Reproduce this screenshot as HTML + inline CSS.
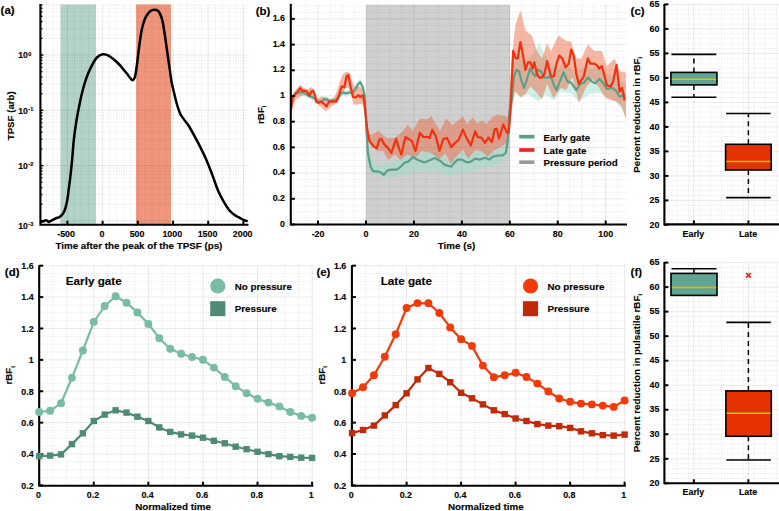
<!DOCTYPE html>
<html><head><meta charset="utf-8"><style>html,body{margin:0;padding:0;background:#fff;}svg{display:block;}</style></head><body>
<svg width="779" height="511" viewBox="0 0 779 511" font-family="'Liberation Sans', sans-serif" font-weight="bold">
<style>text{stroke:#000;stroke-width:0.12px;paint-order:stroke;}</style>
<rect width="779" height="511" fill="#fff"/>
<rect x="60.5" y="4.4" width="35.3" height="220.4" fill="#b4d3c8"/>
<rect x="136.1" y="4.4" width="34.9" height="220.4" fill="#f0967c"/>
<line x1="46.28" y1="4" x2="46.28" y2="224.8" stroke="rgba(30,30,30,0.16)" stroke-width="0.7" stroke-dasharray="1 1.6"/>
<line x1="53.32" y1="4" x2="53.32" y2="224.8" stroke="rgba(30,30,30,0.16)" stroke-width="0.7" stroke-dasharray="1 1.6"/>
<line x1="60.36" y1="4" x2="60.36" y2="224.8" stroke="rgba(30,30,30,0.16)" stroke-width="0.7" stroke-dasharray="1 1.6"/>
<line x1="67.4" y1="4" x2="67.4" y2="224.8" stroke="rgba(30,30,30,0.12)" stroke-width="0.8"/>
<line x1="74.44" y1="4" x2="74.44" y2="224.8" stroke="rgba(30,30,30,0.16)" stroke-width="0.7" stroke-dasharray="1 1.6"/>
<line x1="81.48" y1="4" x2="81.48" y2="224.8" stroke="rgba(30,30,30,0.16)" stroke-width="0.7" stroke-dasharray="1 1.6"/>
<line x1="88.52" y1="4" x2="88.52" y2="224.8" stroke="rgba(30,30,30,0.16)" stroke-width="0.7" stroke-dasharray="1 1.6"/>
<line x1="95.56" y1="4" x2="95.56" y2="224.8" stroke="rgba(30,30,30,0.16)" stroke-width="0.7" stroke-dasharray="1 1.6"/>
<line x1="102.6" y1="4" x2="102.6" y2="224.8" stroke="rgba(30,30,30,0.12)" stroke-width="0.8"/>
<line x1="109.64" y1="4" x2="109.64" y2="224.8" stroke="rgba(30,30,30,0.16)" stroke-width="0.7" stroke-dasharray="1 1.6"/>
<line x1="116.68" y1="4" x2="116.68" y2="224.8" stroke="rgba(30,30,30,0.16)" stroke-width="0.7" stroke-dasharray="1 1.6"/>
<line x1="123.72" y1="4" x2="123.72" y2="224.8" stroke="rgba(30,30,30,0.16)" stroke-width="0.7" stroke-dasharray="1 1.6"/>
<line x1="130.76" y1="4" x2="130.76" y2="224.8" stroke="rgba(30,30,30,0.16)" stroke-width="0.7" stroke-dasharray="1 1.6"/>
<line x1="137.8" y1="4" x2="137.8" y2="224.8" stroke="rgba(30,30,30,0.12)" stroke-width="0.8"/>
<line x1="144.84" y1="4" x2="144.84" y2="224.8" stroke="rgba(30,30,30,0.16)" stroke-width="0.7" stroke-dasharray="1 1.6"/>
<line x1="151.88" y1="4" x2="151.88" y2="224.8" stroke="rgba(30,30,30,0.16)" stroke-width="0.7" stroke-dasharray="1 1.6"/>
<line x1="158.92" y1="4" x2="158.92" y2="224.8" stroke="rgba(30,30,30,0.16)" stroke-width="0.7" stroke-dasharray="1 1.6"/>
<line x1="165.96" y1="4" x2="165.96" y2="224.8" stroke="rgba(30,30,30,0.16)" stroke-width="0.7" stroke-dasharray="1 1.6"/>
<line x1="173" y1="4" x2="173" y2="224.8" stroke="rgba(30,30,30,0.12)" stroke-width="0.8"/>
<line x1="180.04" y1="4" x2="180.04" y2="224.8" stroke="rgba(30,30,30,0.16)" stroke-width="0.7" stroke-dasharray="1 1.6"/>
<line x1="187.08" y1="4" x2="187.08" y2="224.8" stroke="rgba(30,30,30,0.16)" stroke-width="0.7" stroke-dasharray="1 1.6"/>
<line x1="194.12" y1="4" x2="194.12" y2="224.8" stroke="rgba(30,30,30,0.16)" stroke-width="0.7" stroke-dasharray="1 1.6"/>
<line x1="201.16" y1="4" x2="201.16" y2="224.8" stroke="rgba(30,30,30,0.16)" stroke-width="0.7" stroke-dasharray="1 1.6"/>
<line x1="208.2" y1="4" x2="208.2" y2="224.8" stroke="rgba(30,30,30,0.12)" stroke-width="0.8"/>
<line x1="215.24" y1="4" x2="215.24" y2="224.8" stroke="rgba(30,30,30,0.16)" stroke-width="0.7" stroke-dasharray="1 1.6"/>
<line x1="222.28" y1="4" x2="222.28" y2="224.8" stroke="rgba(30,30,30,0.16)" stroke-width="0.7" stroke-dasharray="1 1.6"/>
<line x1="229.32" y1="4" x2="229.32" y2="224.8" stroke="rgba(30,30,30,0.16)" stroke-width="0.7" stroke-dasharray="1 1.6"/>
<line x1="236.36" y1="4" x2="236.36" y2="224.8" stroke="rgba(30,30,30,0.16)" stroke-width="0.7" stroke-dasharray="1 1.6"/>
<line x1="243.4" y1="4" x2="243.4" y2="224.8" stroke="rgba(30,30,30,0.12)" stroke-width="0.8"/>
<line x1="40.4" y1="220.9" x2="248.5" y2="220.9" stroke="rgba(30,30,30,0.12)" stroke-width="0.8"/>
<line x1="40.4" y1="204.25" x2="248.5" y2="204.25" stroke="rgba(30,30,30,0.16)" stroke-width="0.7" stroke-dasharray="1 1.6"/>
<line x1="40.4" y1="194.52" x2="248.5" y2="194.52" stroke="rgba(30,30,30,0.16)" stroke-width="0.7" stroke-dasharray="1 1.6"/>
<line x1="40.4" y1="187.61" x2="248.5" y2="187.61" stroke="rgba(30,30,30,0.16)" stroke-width="0.7" stroke-dasharray="1 1.6"/>
<line x1="40.4" y1="182.25" x2="248.5" y2="182.25" stroke="rgba(30,30,30,0.16)" stroke-width="0.7" stroke-dasharray="1 1.6"/>
<line x1="40.4" y1="177.87" x2="248.5" y2="177.87" stroke="rgba(30,30,30,0.16)" stroke-width="0.7" stroke-dasharray="1 1.6"/>
<line x1="40.4" y1="174.17" x2="248.5" y2="174.17" stroke="rgba(30,30,30,0.16)" stroke-width="0.7" stroke-dasharray="1 1.6"/>
<line x1="40.4" y1="170.96" x2="248.5" y2="170.96" stroke="rgba(30,30,30,0.16)" stroke-width="0.7" stroke-dasharray="1 1.6"/>
<line x1="40.4" y1="168.13" x2="248.5" y2="168.13" stroke="rgba(30,30,30,0.16)" stroke-width="0.7" stroke-dasharray="1 1.6"/>
<line x1="40.4" y1="165.6" x2="248.5" y2="165.6" stroke="rgba(30,30,30,0.12)" stroke-width="0.8"/>
<line x1="40.4" y1="148.95" x2="248.5" y2="148.95" stroke="rgba(30,30,30,0.16)" stroke-width="0.7" stroke-dasharray="1 1.6"/>
<line x1="40.4" y1="139.22" x2="248.5" y2="139.22" stroke="rgba(30,30,30,0.16)" stroke-width="0.7" stroke-dasharray="1 1.6"/>
<line x1="40.4" y1="132.31" x2="248.5" y2="132.31" stroke="rgba(30,30,30,0.16)" stroke-width="0.7" stroke-dasharray="1 1.6"/>
<line x1="40.4" y1="126.95" x2="248.5" y2="126.95" stroke="rgba(30,30,30,0.16)" stroke-width="0.7" stroke-dasharray="1 1.6"/>
<line x1="40.4" y1="122.57" x2="248.5" y2="122.57" stroke="rgba(30,30,30,0.16)" stroke-width="0.7" stroke-dasharray="1 1.6"/>
<line x1="40.4" y1="118.87" x2="248.5" y2="118.87" stroke="rgba(30,30,30,0.16)" stroke-width="0.7" stroke-dasharray="1 1.6"/>
<line x1="40.4" y1="115.66" x2="248.5" y2="115.66" stroke="rgba(30,30,30,0.16)" stroke-width="0.7" stroke-dasharray="1 1.6"/>
<line x1="40.4" y1="112.83" x2="248.5" y2="112.83" stroke="rgba(30,30,30,0.16)" stroke-width="0.7" stroke-dasharray="1 1.6"/>
<line x1="40.4" y1="110.3" x2="248.5" y2="110.3" stroke="rgba(30,30,30,0.12)" stroke-width="0.8"/>
<line x1="40.4" y1="93.65" x2="248.5" y2="93.65" stroke="rgba(30,30,30,0.16)" stroke-width="0.7" stroke-dasharray="1 1.6"/>
<line x1="40.4" y1="83.92" x2="248.5" y2="83.92" stroke="rgba(30,30,30,0.16)" stroke-width="0.7" stroke-dasharray="1 1.6"/>
<line x1="40.4" y1="77.01" x2="248.5" y2="77.01" stroke="rgba(30,30,30,0.16)" stroke-width="0.7" stroke-dasharray="1 1.6"/>
<line x1="40.4" y1="71.65" x2="248.5" y2="71.65" stroke="rgba(30,30,30,0.16)" stroke-width="0.7" stroke-dasharray="1 1.6"/>
<line x1="40.4" y1="67.27" x2="248.5" y2="67.27" stroke="rgba(30,30,30,0.16)" stroke-width="0.7" stroke-dasharray="1 1.6"/>
<line x1="40.4" y1="63.57" x2="248.5" y2="63.57" stroke="rgba(30,30,30,0.16)" stroke-width="0.7" stroke-dasharray="1 1.6"/>
<line x1="40.4" y1="60.36" x2="248.5" y2="60.36" stroke="rgba(30,30,30,0.16)" stroke-width="0.7" stroke-dasharray="1 1.6"/>
<line x1="40.4" y1="57.53" x2="248.5" y2="57.53" stroke="rgba(30,30,30,0.16)" stroke-width="0.7" stroke-dasharray="1 1.6"/>
<line x1="40.4" y1="55" x2="248.5" y2="55" stroke="rgba(30,30,30,0.12)" stroke-width="0.8"/>
<line x1="40.4" y1="38.35" x2="248.5" y2="38.35" stroke="rgba(30,30,30,0.16)" stroke-width="0.7" stroke-dasharray="1 1.6"/>
<line x1="40.4" y1="28.62" x2="248.5" y2="28.62" stroke="rgba(30,30,30,0.16)" stroke-width="0.7" stroke-dasharray="1 1.6"/>
<line x1="40.4" y1="21.71" x2="248.5" y2="21.71" stroke="rgba(30,30,30,0.16)" stroke-width="0.7" stroke-dasharray="1 1.6"/>
<line x1="40.4" y1="16.35" x2="248.5" y2="16.35" stroke="rgba(30,30,30,0.16)" stroke-width="0.7" stroke-dasharray="1 1.6"/>
<line x1="40.4" y1="11.97" x2="248.5" y2="11.97" stroke="rgba(30,30,30,0.16)" stroke-width="0.7" stroke-dasharray="1 1.6"/>
<line x1="40.4" y1="8.27" x2="248.5" y2="8.27" stroke="rgba(30,30,30,0.16)" stroke-width="0.7" stroke-dasharray="1 1.6"/>
<line x1="40.4" y1="5.06" x2="248.5" y2="5.06" stroke="rgba(30,30,30,0.16)" stroke-width="0.7" stroke-dasharray="1 1.6"/>
<path d="M40,221.9 C40.58,221.8 42.67,221.55 43.5,221.3 C44.33,221.05 44.42,220.52 45,220.4 C45.58,220.28 46.37,220.35 47,220.6 C47.63,220.85 48.22,221.83 48.8,221.9 C49.38,221.97 49.92,221.3 50.5,221 C51.08,220.7 51.42,220.55 52.3,220.1 C53.18,219.65 54.62,218.8 55.8,218.3 C56.98,217.8 58.37,217.68 59.4,217.1 C60.43,216.52 61.27,215.62 62,214.8 C62.73,213.98 63.22,213.37 63.8,212.2 C64.38,211.03 64.92,209.85 65.5,207.8 C66.08,205.75 66.8,202.68 67.3,199.9 C67.8,197.12 68.07,194.33 68.5,191.1 C68.93,187.87 69.43,184.32 69.9,180.5 C70.37,176.68 70.85,172.6 71.3,168.2 C71.75,163.8 72.18,158.8 72.6,154.1 C73.02,149.4 73.2,145.32 73.8,140 C74.4,134.68 75.32,127.78 76.2,122.2 C77.08,116.62 78.12,111.4 79.1,106.5 C80.08,101.6 80.95,97.37 82.1,92.8 C83.25,88.23 84.53,83.33 86,79.1 C87.47,74.87 89.1,70.98 90.9,67.4 C92.7,63.82 94.85,59.78 96.8,57.6 C98.75,55.42 100.65,54.62 102.6,54.3 C104.55,53.98 105.88,54.17 108.5,55.7 C111.12,57.23 115.55,60.9 118.3,63.5 C121.05,66.1 123.3,69.27 125,71.3 C126.7,73.33 127.33,74.23 128.5,75.7 C129.67,77.17 130.97,79.8 132,80.1 C133.03,80.4 133.97,79.4 134.7,77.5 C135.43,75.6 135.82,72.52 136.4,68.7 C136.98,64.88 137.6,59.3 138.2,54.6 C138.8,49.9 139.42,44.62 140,40.5 C140.58,36.38 140.97,33.28 141.7,29.9 C142.43,26.52 143.52,22.68 144.4,20.2 C145.28,17.72 145.98,16.55 147,15 C148.02,13.45 149.33,11.78 150.5,10.9 C151.67,10.02 152.82,9.75 154,9.7 C155.18,9.65 156.57,9.87 157.6,10.6 C158.63,11.33 159.38,12.35 160.2,14.1 C161.02,15.85 161.77,17.87 162.5,21.1 C163.23,24.33 163.95,29.38 164.6,33.5 C165.25,37.62 165.82,41.7 166.4,45.8 C166.98,49.9 167.52,54 168.1,58.1 C168.68,62.2 169.3,66.3 169.9,70.4 C170.5,74.5 171.05,79.15 171.7,82.7 C172.35,86.25 172.97,88.23 173.8,91.7 C174.63,95.17 175.63,99.83 176.7,103.5 C177.77,107.17 178.97,111.02 180.2,113.7 C181.43,116.38 182.72,117.63 184.1,119.6 C185.48,121.57 186.8,122.82 188.5,125.5 C190.2,128.18 192.35,132.13 194.3,135.7 C196.25,139.27 198.23,142.98 200.2,146.9 C202.17,150.82 204.15,154.72 206.1,159.2 C208.05,163.68 209.95,168.67 211.9,173.8 C213.85,178.93 215.83,185.35 217.8,190 C219.77,194.65 221.75,198.28 223.7,201.7 C225.65,205.12 227.55,208.2 229.5,210.5 C231.45,212.8 233.53,214.18 235.4,215.5 C237.27,216.82 239.23,217.62 240.7,218.4 C242.17,219.18 243.03,219.72 244.2,220.2 C245.37,220.68 247.12,221.12 247.7,221.3" fill="none" stroke="#000" stroke-width="2.5" stroke-linejoin="round"/>
<line x1="67.4" y1="224.8" x2="67.4" y2="220.8" stroke="#000" stroke-width="2"/>
<text x="66.1" y="236.8" font-size="8.9" text-anchor="middle" >-500</text>
<line x1="102.6" y1="224.8" x2="102.6" y2="220.8" stroke="#000" stroke-width="2"/>
<text x="101.9" y="236.8" font-size="8.9" text-anchor="middle" >0</text>
<line x1="137.8" y1="224.8" x2="137.8" y2="220.8" stroke="#000" stroke-width="2"/>
<text x="137.1" y="236.8" font-size="8.9" text-anchor="middle" >500</text>
<line x1="173" y1="224.8" x2="173" y2="220.8" stroke="#000" stroke-width="2"/>
<text x="172.3" y="236.8" font-size="8.9" text-anchor="middle" >1000</text>
<line x1="208.2" y1="224.8" x2="208.2" y2="220.8" stroke="#000" stroke-width="2"/>
<text x="207.5" y="236.8" font-size="8.9" text-anchor="middle" >1500</text>
<line x1="243.4" y1="224.8" x2="243.4" y2="220.8" stroke="#000" stroke-width="2"/>
<text x="242.7" y="236.8" font-size="8.9" text-anchor="middle" >2000</text>
<line x1="40.4" y1="220.9" x2="43.4" y2="220.9" stroke="#000" stroke-width="1.4"/>
<line x1="40.4" y1="204.25" x2="42.4" y2="204.25" stroke="#000" stroke-width="1.4"/>
<line x1="40.4" y1="194.52" x2="42.4" y2="194.52" stroke="#000" stroke-width="1.4"/>
<line x1="40.4" y1="187.61" x2="42.4" y2="187.61" stroke="#000" stroke-width="1.4"/>
<line x1="40.4" y1="182.25" x2="42.4" y2="182.25" stroke="#000" stroke-width="1.4"/>
<line x1="40.4" y1="177.87" x2="42.4" y2="177.87" stroke="#000" stroke-width="1.4"/>
<line x1="40.4" y1="174.17" x2="42.4" y2="174.17" stroke="#000" stroke-width="1.4"/>
<line x1="40.4" y1="170.96" x2="42.4" y2="170.96" stroke="#000" stroke-width="1.4"/>
<line x1="40.4" y1="168.13" x2="42.4" y2="168.13" stroke="#000" stroke-width="1.4"/>
<line x1="40.4" y1="165.6" x2="43.4" y2="165.6" stroke="#000" stroke-width="1.4"/>
<line x1="40.4" y1="148.95" x2="42.4" y2="148.95" stroke="#000" stroke-width="1.4"/>
<line x1="40.4" y1="139.22" x2="42.4" y2="139.22" stroke="#000" stroke-width="1.4"/>
<line x1="40.4" y1="132.31" x2="42.4" y2="132.31" stroke="#000" stroke-width="1.4"/>
<line x1="40.4" y1="126.95" x2="42.4" y2="126.95" stroke="#000" stroke-width="1.4"/>
<line x1="40.4" y1="122.57" x2="42.4" y2="122.57" stroke="#000" stroke-width="1.4"/>
<line x1="40.4" y1="118.87" x2="42.4" y2="118.87" stroke="#000" stroke-width="1.4"/>
<line x1="40.4" y1="115.66" x2="42.4" y2="115.66" stroke="#000" stroke-width="1.4"/>
<line x1="40.4" y1="112.83" x2="42.4" y2="112.83" stroke="#000" stroke-width="1.4"/>
<line x1="40.4" y1="110.3" x2="43.4" y2="110.3" stroke="#000" stroke-width="1.4"/>
<line x1="40.4" y1="93.65" x2="42.4" y2="93.65" stroke="#000" stroke-width="1.4"/>
<line x1="40.4" y1="83.92" x2="42.4" y2="83.92" stroke="#000" stroke-width="1.4"/>
<line x1="40.4" y1="77.01" x2="42.4" y2="77.01" stroke="#000" stroke-width="1.4"/>
<line x1="40.4" y1="71.65" x2="42.4" y2="71.65" stroke="#000" stroke-width="1.4"/>
<line x1="40.4" y1="67.27" x2="42.4" y2="67.27" stroke="#000" stroke-width="1.4"/>
<line x1="40.4" y1="63.57" x2="42.4" y2="63.57" stroke="#000" stroke-width="1.4"/>
<line x1="40.4" y1="60.36" x2="42.4" y2="60.36" stroke="#000" stroke-width="1.4"/>
<line x1="40.4" y1="57.53" x2="42.4" y2="57.53" stroke="#000" stroke-width="1.4"/>
<line x1="40.4" y1="55" x2="43.4" y2="55" stroke="#000" stroke-width="1.4"/>
<line x1="40.4" y1="38.35" x2="42.4" y2="38.35" stroke="#000" stroke-width="1.4"/>
<line x1="40.4" y1="28.62" x2="42.4" y2="28.62" stroke="#000" stroke-width="1.4"/>
<line x1="40.4" y1="21.71" x2="42.4" y2="21.71" stroke="#000" stroke-width="1.4"/>
<line x1="40.4" y1="16.35" x2="42.4" y2="16.35" stroke="#000" stroke-width="1.4"/>
<line x1="40.4" y1="11.97" x2="42.4" y2="11.97" stroke="#000" stroke-width="1.4"/>
<line x1="40.4" y1="8.27" x2="42.4" y2="8.27" stroke="#000" stroke-width="1.4"/>
<line x1="40.4" y1="5.06" x2="42.4" y2="5.06" stroke="#000" stroke-width="1.4"/>
<text x="27.8" y="58.4" font-size="8.7" text-anchor="end">10</text>
<text x="28.3" y="55.7" font-size="5.6" text-anchor="start">0</text>
<text x="27.8" y="113.8" font-size="8.7" text-anchor="end">10</text>
<text x="28.3" y="111.1" font-size="5.6" text-anchor="start">-1</text>
<text x="27.8" y="169" font-size="8.7" text-anchor="end">10</text>
<text x="28.3" y="166.3" font-size="5.6" text-anchor="start">-2</text>
<text x="27.8" y="228.6" font-size="8.7" text-anchor="end">10</text>
<text x="28.3" y="225.9" font-size="5.6" text-anchor="start">-3</text>
<path d="M40.4,4 L40.4,224.8 L248.5,224.8" fill="none" stroke="#000" stroke-width="2.1"/>
<text x="138.9" y="249.2" font-size="9.8" text-anchor="middle" >Time after the peak of the TPSF (ps)</text>
<text transform="translate(13.6,115.8) rotate(-90)" font-size="9.7" text-anchor="middle">TPSF (arb)</text>
<text x="0.6" y="14.2" font-size="11.5" text-anchor="start" >(a)</text>
<rect x="366" y="4.6" width="144" height="219.9" fill="#d0d0d0"/>
<line x1="294.07" y1="4.2" x2="294.07" y2="224.5" stroke="rgba(30,30,30,0.16)" stroke-width="0.7" stroke-dasharray="1 1.6"/>
<line x1="306.06" y1="4.2" x2="306.06" y2="224.5" stroke="rgba(30,30,30,0.16)" stroke-width="0.7" stroke-dasharray="1 1.6"/>
<line x1="318.05" y1="4.2" x2="318.05" y2="224.5" stroke="rgba(30,30,30,0.12)" stroke-width="0.8"/>
<line x1="330.04" y1="4.2" x2="330.04" y2="224.5" stroke="rgba(30,30,30,0.16)" stroke-width="0.7" stroke-dasharray="1 1.6"/>
<line x1="342.02" y1="4.2" x2="342.02" y2="224.5" stroke="rgba(30,30,30,0.16)" stroke-width="0.7" stroke-dasharray="1 1.6"/>
<line x1="354.01" y1="4.2" x2="354.01" y2="224.5" stroke="rgba(30,30,30,0.16)" stroke-width="0.7" stroke-dasharray="1 1.6"/>
<line x1="366" y1="4.2" x2="366" y2="224.5" stroke="rgba(30,30,30,0.12)" stroke-width="0.8"/>
<line x1="377.99" y1="4.2" x2="377.99" y2="224.5" stroke="rgba(30,30,30,0.16)" stroke-width="0.7" stroke-dasharray="1 1.6"/>
<line x1="389.98" y1="4.2" x2="389.98" y2="224.5" stroke="rgba(30,30,30,0.16)" stroke-width="0.7" stroke-dasharray="1 1.6"/>
<line x1="401.96" y1="4.2" x2="401.96" y2="224.5" stroke="rgba(30,30,30,0.16)" stroke-width="0.7" stroke-dasharray="1 1.6"/>
<line x1="413.95" y1="4.2" x2="413.95" y2="224.5" stroke="rgba(30,30,30,0.12)" stroke-width="0.8"/>
<line x1="425.94" y1="4.2" x2="425.94" y2="224.5" stroke="rgba(30,30,30,0.16)" stroke-width="0.7" stroke-dasharray="1 1.6"/>
<line x1="437.93" y1="4.2" x2="437.93" y2="224.5" stroke="rgba(30,30,30,0.16)" stroke-width="0.7" stroke-dasharray="1 1.6"/>
<line x1="449.91" y1="4.2" x2="449.91" y2="224.5" stroke="rgba(30,30,30,0.16)" stroke-width="0.7" stroke-dasharray="1 1.6"/>
<line x1="461.9" y1="4.2" x2="461.9" y2="224.5" stroke="rgba(30,30,30,0.12)" stroke-width="0.8"/>
<line x1="473.89" y1="4.2" x2="473.89" y2="224.5" stroke="rgba(30,30,30,0.16)" stroke-width="0.7" stroke-dasharray="1 1.6"/>
<line x1="485.88" y1="4.2" x2="485.88" y2="224.5" stroke="rgba(30,30,30,0.16)" stroke-width="0.7" stroke-dasharray="1 1.6"/>
<line x1="497.86" y1="4.2" x2="497.86" y2="224.5" stroke="rgba(30,30,30,0.16)" stroke-width="0.7" stroke-dasharray="1 1.6"/>
<line x1="509.85" y1="4.2" x2="509.85" y2="224.5" stroke="rgba(30,30,30,0.12)" stroke-width="0.8"/>
<line x1="521.84" y1="4.2" x2="521.84" y2="224.5" stroke="rgba(30,30,30,0.16)" stroke-width="0.7" stroke-dasharray="1 1.6"/>
<line x1="533.83" y1="4.2" x2="533.83" y2="224.5" stroke="rgba(30,30,30,0.16)" stroke-width="0.7" stroke-dasharray="1 1.6"/>
<line x1="545.81" y1="4.2" x2="545.81" y2="224.5" stroke="rgba(30,30,30,0.16)" stroke-width="0.7" stroke-dasharray="1 1.6"/>
<line x1="557.8" y1="4.2" x2="557.8" y2="224.5" stroke="rgba(30,30,30,0.12)" stroke-width="0.8"/>
<line x1="569.79" y1="4.2" x2="569.79" y2="224.5" stroke="rgba(30,30,30,0.16)" stroke-width="0.7" stroke-dasharray="1 1.6"/>
<line x1="581.77" y1="4.2" x2="581.77" y2="224.5" stroke="rgba(30,30,30,0.16)" stroke-width="0.7" stroke-dasharray="1 1.6"/>
<line x1="593.76" y1="4.2" x2="593.76" y2="224.5" stroke="rgba(30,30,30,0.16)" stroke-width="0.7" stroke-dasharray="1 1.6"/>
<line x1="605.75" y1="4.2" x2="605.75" y2="224.5" stroke="rgba(30,30,30,0.12)" stroke-width="0.8"/>
<line x1="617.74" y1="4.2" x2="617.74" y2="224.5" stroke="rgba(30,30,30,0.16)" stroke-width="0.7" stroke-dasharray="1 1.6"/>
<line x1="290.8" y1="218.07" x2="627" y2="218.07" stroke="rgba(30,30,30,0.16)" stroke-width="0.7" stroke-dasharray="1 1.6"/>
<line x1="290.8" y1="211.65" x2="627" y2="211.65" stroke="rgba(30,30,30,0.16)" stroke-width="0.7" stroke-dasharray="1 1.6"/>
<line x1="290.8" y1="205.22" x2="627" y2="205.22" stroke="rgba(30,30,30,0.16)" stroke-width="0.7" stroke-dasharray="1 1.6"/>
<line x1="290.8" y1="198.8" x2="627" y2="198.8" stroke="rgba(30,30,30,0.12)" stroke-width="0.8"/>
<line x1="290.8" y1="192.38" x2="627" y2="192.38" stroke="rgba(30,30,30,0.16)" stroke-width="0.7" stroke-dasharray="1 1.6"/>
<line x1="290.8" y1="185.95" x2="627" y2="185.95" stroke="rgba(30,30,30,0.16)" stroke-width="0.7" stroke-dasharray="1 1.6"/>
<line x1="290.8" y1="179.53" x2="627" y2="179.53" stroke="rgba(30,30,30,0.16)" stroke-width="0.7" stroke-dasharray="1 1.6"/>
<line x1="290.8" y1="173.1" x2="627" y2="173.1" stroke="rgba(30,30,30,0.12)" stroke-width="0.8"/>
<line x1="290.8" y1="166.68" x2="627" y2="166.68" stroke="rgba(30,30,30,0.16)" stroke-width="0.7" stroke-dasharray="1 1.6"/>
<line x1="290.8" y1="160.25" x2="627" y2="160.25" stroke="rgba(30,30,30,0.16)" stroke-width="0.7" stroke-dasharray="1 1.6"/>
<line x1="290.8" y1="153.82" x2="627" y2="153.82" stroke="rgba(30,30,30,0.16)" stroke-width="0.7" stroke-dasharray="1 1.6"/>
<line x1="290.8" y1="147.4" x2="627" y2="147.4" stroke="rgba(30,30,30,0.12)" stroke-width="0.8"/>
<line x1="290.8" y1="140.97" x2="627" y2="140.97" stroke="rgba(30,30,30,0.16)" stroke-width="0.7" stroke-dasharray="1 1.6"/>
<line x1="290.8" y1="134.55" x2="627" y2="134.55" stroke="rgba(30,30,30,0.16)" stroke-width="0.7" stroke-dasharray="1 1.6"/>
<line x1="290.8" y1="128.12" x2="627" y2="128.12" stroke="rgba(30,30,30,0.16)" stroke-width="0.7" stroke-dasharray="1 1.6"/>
<line x1="290.8" y1="121.7" x2="627" y2="121.7" stroke="rgba(30,30,30,0.12)" stroke-width="0.8"/>
<line x1="290.8" y1="115.27" x2="627" y2="115.27" stroke="rgba(30,30,30,0.16)" stroke-width="0.7" stroke-dasharray="1 1.6"/>
<line x1="290.8" y1="108.85" x2="627" y2="108.85" stroke="rgba(30,30,30,0.16)" stroke-width="0.7" stroke-dasharray="1 1.6"/>
<line x1="290.8" y1="102.42" x2="627" y2="102.42" stroke="rgba(30,30,30,0.16)" stroke-width="0.7" stroke-dasharray="1 1.6"/>
<line x1="290.8" y1="96" x2="627" y2="96" stroke="rgba(30,30,30,0.12)" stroke-width="0.8"/>
<line x1="290.8" y1="89.57" x2="627" y2="89.57" stroke="rgba(30,30,30,0.16)" stroke-width="0.7" stroke-dasharray="1 1.6"/>
<line x1="290.8" y1="83.15" x2="627" y2="83.15" stroke="rgba(30,30,30,0.16)" stroke-width="0.7" stroke-dasharray="1 1.6"/>
<line x1="290.8" y1="76.72" x2="627" y2="76.72" stroke="rgba(30,30,30,0.16)" stroke-width="0.7" stroke-dasharray="1 1.6"/>
<line x1="290.8" y1="70.3" x2="627" y2="70.3" stroke="rgba(30,30,30,0.12)" stroke-width="0.8"/>
<line x1="290.8" y1="63.88" x2="627" y2="63.88" stroke="rgba(30,30,30,0.16)" stroke-width="0.7" stroke-dasharray="1 1.6"/>
<line x1="290.8" y1="57.45" x2="627" y2="57.45" stroke="rgba(30,30,30,0.16)" stroke-width="0.7" stroke-dasharray="1 1.6"/>
<line x1="290.8" y1="51.02" x2="627" y2="51.02" stroke="rgba(30,30,30,0.16)" stroke-width="0.7" stroke-dasharray="1 1.6"/>
<line x1="290.8" y1="44.6" x2="627" y2="44.6" stroke="rgba(30,30,30,0.12)" stroke-width="0.8"/>
<line x1="290.8" y1="38.17" x2="627" y2="38.17" stroke="rgba(30,30,30,0.16)" stroke-width="0.7" stroke-dasharray="1 1.6"/>
<line x1="290.8" y1="31.75" x2="627" y2="31.75" stroke="rgba(30,30,30,0.16)" stroke-width="0.7" stroke-dasharray="1 1.6"/>
<line x1="290.8" y1="25.32" x2="627" y2="25.32" stroke="rgba(30,30,30,0.16)" stroke-width="0.7" stroke-dasharray="1 1.6"/>
<line x1="290.8" y1="18.9" x2="627" y2="18.9" stroke="rgba(30,30,30,0.12)" stroke-width="0.8"/>
<line x1="290.8" y1="12.47" x2="627" y2="12.47" stroke="rgba(30,30,30,0.16)" stroke-width="0.7" stroke-dasharray="1 1.6"/>
<line x1="290.8" y1="6.05" x2="627" y2="6.05" stroke="rgba(30,30,30,0.16)" stroke-width="0.7" stroke-dasharray="1 1.6"/>
<path d="M291.2,97 L294.3,91.6 L296.5,90 L300.2,89.4 L302.9,89.4 L306.1,91.1 L309.4,93.2 L312.6,94.3 L315.8,96.4 L319.1,99.1 L322.3,98.1 L324.4,95.9 L327.1,96.4 L329.8,98.6 L333.1,97.5 L337.3,96.6 L340.8,90.5 L343.5,89.6 L346.1,90.5 L348.8,89.6 L352.3,89.6 L354.9,86.9 L357.6,81.7 L360.2,78.5 L362.8,83.3 L364.6,91.2 L366.5,125 L368,145 L370.6,158.1 L377.6,166 L386.4,162.5 L395.2,161.6 L404,154.6 L412.8,153.7 L419.9,152.8 L430.4,151.9 L439.3,153.7 L448.8,159.6 L457.6,149.9 L466.4,155.2 L475.2,151.6 L484,149.9 L492.8,150.8 L501.6,146.4 L507.8,137.6 L509.9,100 L514,63.6 L520.4,54.7 L525.4,61.1 L533.1,53.4 L539.4,43.2 L544.5,54.7 L550.9,66.1 L558.5,68.7 L563.6,61.1 L571.2,68.7 L576.3,73.8 L583.9,66.1 L591.6,68.7 L599.2,66.1 L606.8,73.8 L614.5,76.3 L624.6,83.9 L625.9,84 L625.9,118.3 L622.1,109.4 L614.5,100.5 L606.8,96.7 L599.2,92.9 L589,94.1 L578.9,101.8 L571.2,94.1 L561.1,91.6 L553.4,100.5 L545.8,94.1 L538.2,101.8 L528,94.1 L520.4,97.9 L514,91.6 L509.9,116.4 L507.8,156.9 L501.6,162.2 L492.8,165.7 L484,167.5 L475.2,170.1 L466.4,171.9 L457.6,172.8 L448.8,176.3 L440,171 L430.4,172.2 L421.6,170.4 L412.8,171.3 L404,174 L395.2,177.5 L386.4,178.4 L377.6,175.7 L370.6,174 L367.5,160 L366,130 L364.6,99.2 L362.8,91.3 L360.2,86 L357.6,88.7 L354.9,93.9 L352.3,95.6 L348.8,95.6 L346.1,96.5 L343.5,95.6 L340.8,96.5 L337.3,102.6 L333.1,103.5 L329.8,104.6 L327.1,102.4 L324.4,101.9 L322.3,104.1 L319.1,105.1 L315.8,102.4 L312.6,100.3 L309.4,99.2 L306.1,97.1 L302.9,95.4 L300.2,95.4 L296.5,96 L294.3,97.6 L291.2,103 Z" fill="rgba(150,225,205,0.45)" stroke="none"/>
<path d="M291.2,100 L293.2,94.1 L296.5,88.7 L300.2,84.4 L304,88.1 L307.8,89.2 L311.5,87.1 L314.2,89.2 L317.4,99.4 L321.2,96.2 L324.4,97.3 L327.1,98.4 L330.4,98.9 L334.1,97.5 L337,91 L340,81 L343,74 L345.5,72 L348,72 L350.5,74 L352.5,82 L355,87 L359,87 L362,88 L364.5,95 L366.5,112 L367.9,133.5 L371.4,135.2 L378.5,130.8 L386.4,137.9 L395.2,137.9 L402.3,131.7 L407.6,124.7 L412.8,130.8 L419.9,118.5 L426.9,119.4 L431.3,115.9 L435.7,123.8 L440.1,130.8 L446.2,118.2 L452.3,125.2 L457.6,120.8 L462.9,116.4 L467.3,124.3 L472.6,117.3 L477,123.5 L482.3,120.8 L486.7,124.3 L492.8,116.4 L498.1,114.7 L503.4,115.5 L507.8,117.3 L509.9,90 L511.4,63.6 L515.3,25.4 L520.4,10.2 L525.4,30.5 L531.8,35.6 L536.9,50.9 L542,58.5 L547.1,43.2 L550.9,50.9 L558.5,35.6 L566.1,40.7 L571.2,42 L576.3,58.5 L581.4,58.5 L587.8,44.5 L594.1,50.9 L601.8,50.9 L606.8,66.1 L614.5,58.5 L619.6,71.2 L625.9,72.5 L625.9,119.6 L622.1,106.8 L617,101.8 L611.9,100.5 L605.6,97.9 L599.2,87.8 L592.9,78.9 L586.5,86.5 L578.9,103 L572.5,77.6 L566.1,90.3 L561.1,87.8 L553.4,97.9 L547.1,83.9 L542,99.2 L535.6,91.6 L530.5,86.5 L525.4,94.1 L520.4,96.7 L515.3,91.6 L511.4,111.9 L510.4,125 L507.8,142 L501.6,146.4 L494.6,149.9 L487.6,156.9 L482.3,151.6 L475.2,149.9 L468.2,158.7 L462.9,149.9 L455.9,156.9 L450.6,164 L445.3,153.4 L439.3,159 L430.4,152.8 L421.6,151.1 L414.6,159 L407.6,154.6 L400.5,159.9 L395.2,154.6 L388.2,159.9 L382.9,151.1 L377.6,151.1 L372,147 L367.9,140.5 L366.5,126 L364.5,112 L362,104 L359,104 L356,105 L353.5,104 L351,95 L348.5,88 L346,88 L343,92 L340,97 L337,103 L334.1,104.8 L332,105.9 L328.8,109.1 L325.5,111.3 L322.3,108.1 L319.1,105.9 L315.8,101.6 L311.5,97.3 L307.8,95.7 L304,95.1 L300.8,96.2 L296.5,99.4 L293.2,103.8 L291.2,116 Z" fill="rgba(238,95,55,0.45)" stroke="none"/>
<path d="M291.2,100 L292.5,97 L294.3,94.6 L296.5,93 L300.2,92.4 L302.9,92.4 L306.1,94.1 L309.4,96.2 L312.6,97.3 L315.8,99.4 L319.1,102.1 L322.3,101.1 L324.4,98.9 L327.1,99.4 L329.8,101.6 L333.1,100.5 L337.3,99.6 L340.8,93.5 L343.5,92.6 L346.1,93.5 L348.8,92.6 L352.3,92.6 L354.9,89.9 L357.6,84.7 L360.2,82 L362.8,87.3 L364.6,95.2 L366.2,125 L367.9,152.8 L370.6,166.9 L373.2,171.3 L376.7,171.3 L380.3,172.2 L383.8,174.8 L387.3,170.4 L390.8,169.6 L397,169.6 L401.4,166 L404.9,162.5 L408.4,161.6 L412.8,157.2 L418.1,159.9 L424.3,162.5 L428.7,160.8 L434.9,158.1 L440.5,161 L443.5,164 L447,165.7 L451.4,166.6 L454.1,163.1 L457.6,159.6 L462,159.6 L466.4,162.2 L469.9,162.2 L475.2,158.7 L479.6,159.6 L484.9,157.8 L489.3,159.6 L492.8,156.6 L498.1,155.5 L502.5,155.5 L506,152.5 L507.8,139.3 L509.6,111.1 L511.4,101.8 L514,76.3 L516.5,70 L519.1,71.2 L521.6,81.4 L524.2,87.8 L526.7,80.1 L530,68.7 L533.1,73.8 L535.6,76.3 L538.2,70 L540.7,71.2 L544.5,77.6 L548.3,77.6 L550.9,76.3 L553.4,83.9 L556.5,90.3 L559.8,81.4 L563.6,72.5 L567.4,81.4 L571.2,82.7 L576.3,90.3 L580.1,83.9 L583.9,82.7 L587.8,77.6 L591.6,81.4 L595.4,83.4 L599.2,78.9 L603,82.7 L606.8,89 L611.9,87.8 L615.7,90.3 L619.6,96.7 L623.4,95.4 L625.2,94.1" fill="none" stroke="#5b9f8b" stroke-width="2.2" stroke-linejoin="round"/>
<path d="M291.2,108 L292.2,101.6 L293.2,97.3 L295.4,94.1 L297.5,91.9 L300.2,88.1 L302.4,90.8 L305.1,90.8 L307.2,91.9 L309.4,95.7 L311.5,91.4 L313.1,90.8 L314.8,95.1 L316.4,102.1 L318.5,102.7 L321.2,101.6 L323.9,103.8 L326.6,106.4 L328.8,102.1 L331.4,101.1 L334.1,101.6 L336.4,101.4 L339.1,94.3 L341.7,86.4 L344.4,87.3 L346.6,75.9 L348.4,75 L350.5,86.4 L353.2,97 L355.8,97.3 L358.1,95.2 L360.2,97 L362.8,95.2 L364.6,104 L366,118 L367.3,130 L369.7,141.4 L373.2,145.8 L376.7,148.4 L379.4,139.6 L381.1,138.7 L384.7,144.9 L388.2,148.4 L391.3,152.8 L393.5,146.7 L396.1,138.7 L398.7,147.6 L401.4,154.6 L405.4,137 L408.4,138.7 L412,141.4 L415.5,151.1 L419.9,132.6 L423.4,137 L427.8,137 L429.6,137.9 L432.2,129.9 L435.7,136.1 L439.5,151 L443.3,139 L447,138 L451.4,147.2 L455,142.8 L458.5,140.2 L462.9,129.6 L466.4,137.6 L470.8,145.5 L475.2,131.4 L477.9,137.2 L481.4,137.6 L484.9,142.8 L488.4,137.6 L492,142 L494.6,129.6 L496.7,128.7 L499,138.4 L503.4,124.3 L506.6,132.3 L508.7,132.3 L510.4,111.1 L511.4,89 L513.2,50.9 L515.8,58.5 L517.8,58.5 L520.4,42 L522.9,54.7 L525.4,70 L528,62.3 L530.5,62.3 L532.6,68.7 L534.3,62.3 L536.9,73.8 L539.4,77.6 L542,77.6 L544.5,73.8 L547.1,61.1 L550.9,76.3 L553.9,76.3 L556.5,63.6 L559.3,55.5 L562.3,58.5 L565.6,67.4 L568.7,63.6 L571.2,49.6 L573.8,56 L576.3,73.8 L578.9,83.9 L581.4,80.1 L583.9,76.3 L587.8,58.5 L590.3,63.6 L594.1,63.6 L596.7,64.9 L599.2,68.7 L601.8,66.1 L604.3,75 L606.8,85.2 L610.7,86.5 L613.2,81.4 L616.5,64.9 L619.6,91.6 L622.1,87.8 L624.6,100.5" fill="none" stroke="#f0320f" stroke-width="2.2" stroke-linejoin="round"/>
<line x1="318.05" y1="224.5" x2="318.05" y2="220.5" stroke="#000" stroke-width="2"/>
<text x="318.05" y="236.6" font-size="8.9" text-anchor="middle" >-20</text>
<line x1="366" y1="224.5" x2="366" y2="220.5" stroke="#000" stroke-width="2"/>
<text x="366" y="236.6" font-size="8.9" text-anchor="middle" >0</text>
<line x1="413.95" y1="224.5" x2="413.95" y2="220.5" stroke="#000" stroke-width="2"/>
<text x="413.95" y="236.6" font-size="8.9" text-anchor="middle" >20</text>
<line x1="461.9" y1="224.5" x2="461.9" y2="220.5" stroke="#000" stroke-width="2"/>
<text x="461.9" y="236.6" font-size="8.9" text-anchor="middle" >40</text>
<line x1="509.85" y1="224.5" x2="509.85" y2="220.5" stroke="#000" stroke-width="2"/>
<text x="509.85" y="236.6" font-size="8.9" text-anchor="middle" >60</text>
<line x1="557.8" y1="224.5" x2="557.8" y2="220.5" stroke="#000" stroke-width="2"/>
<text x="557.8" y="236.6" font-size="8.9" text-anchor="middle" >80</text>
<line x1="605.75" y1="224.5" x2="605.75" y2="220.5" stroke="#000" stroke-width="2"/>
<text x="605.75" y="236.6" font-size="8.9" text-anchor="middle" >100</text>
<line x1="290.8" y1="224.5" x2="294.8" y2="224.5" stroke="#000" stroke-width="2"/>
<text x="285" y="226.6" font-size="8.9" text-anchor="end" >0</text>
<line x1="290.8" y1="198.8" x2="294.8" y2="198.8" stroke="#000" stroke-width="2"/>
<text x="285" y="200.9" font-size="8.9" text-anchor="end" >0.2</text>
<line x1="290.8" y1="173.1" x2="294.8" y2="173.1" stroke="#000" stroke-width="2"/>
<text x="285" y="175.2" font-size="8.9" text-anchor="end" >0.4</text>
<line x1="290.8" y1="147.4" x2="294.8" y2="147.4" stroke="#000" stroke-width="2"/>
<text x="285" y="149.5" font-size="8.9" text-anchor="end" >0.6</text>
<line x1="290.8" y1="121.7" x2="294.8" y2="121.7" stroke="#000" stroke-width="2"/>
<text x="285" y="123.8" font-size="8.9" text-anchor="end" >0.8</text>
<line x1="290.8" y1="96" x2="294.8" y2="96" stroke="#000" stroke-width="2"/>
<text x="285" y="98.1" font-size="8.9" text-anchor="end" >1</text>
<line x1="290.8" y1="70.3" x2="294.8" y2="70.3" stroke="#000" stroke-width="2"/>
<text x="285" y="72.4" font-size="8.9" text-anchor="end" >1.2</text>
<line x1="290.8" y1="44.6" x2="294.8" y2="44.6" stroke="#000" stroke-width="2"/>
<text x="285" y="46.7" font-size="8.9" text-anchor="end" >1.4</text>
<line x1="290.8" y1="18.9" x2="294.8" y2="18.9" stroke="#000" stroke-width="2"/>
<text x="285" y="21" font-size="8.9" text-anchor="end" >1.6</text>
<path d="M290.8,3.7 L290.8,224.5 L627,224.5" fill="none" stroke="#000" stroke-width="2.1"/>
<text x="456.5" y="249.2" font-size="9.8" text-anchor="middle" >Time (s)</text>
<text transform="translate(263.8,114.8) rotate(-90)" font-size="9.8" text-anchor="middle">rBF<tspan font-size="5.5" dy="2.2">i</tspan></text>
<text x="255.7" y="14.5" font-size="11.5" text-anchor="start" >(b)</text>
<rect x="519.2" y="134.9" width="15.2" height="3.6" fill="#5b9f8b"/>
<rect x="519.2" y="148.2" width="15.2" height="3.6" fill="#f02020"/>
<rect x="519.2" y="160.4" width="15.2" height="3.6" fill="#999999"/>
<text x="543.5" y="140.6" font-size="9.75" text-anchor="start" >Early gate</text>
<text x="543.5" y="153.8" font-size="9.75" text-anchor="start" >Late gate</text>
<text x="543.5" y="165.8" font-size="9.75" text-anchor="start" >Pressure period</text>
<line x1="664.4" y1="220" x2="779" y2="220" stroke="rgba(30,30,30,0.16)" stroke-width="0.7" stroke-dasharray="1 1.6"/>
<line x1="664.4" y1="215.1" x2="779" y2="215.1" stroke="rgba(30,30,30,0.16)" stroke-width="0.7" stroke-dasharray="1 1.6"/>
<line x1="664.4" y1="210.2" x2="779" y2="210.2" stroke="rgba(30,30,30,0.16)" stroke-width="0.7" stroke-dasharray="1 1.6"/>
<line x1="664.4" y1="205.3" x2="779" y2="205.3" stroke="rgba(30,30,30,0.16)" stroke-width="0.7" stroke-dasharray="1 1.6"/>
<line x1="664.4" y1="200.4" x2="779" y2="200.4" stroke="rgba(30,30,30,0.12)" stroke-width="0.8"/>
<line x1="664.4" y1="195.5" x2="779" y2="195.5" stroke="rgba(30,30,30,0.16)" stroke-width="0.7" stroke-dasharray="1 1.6"/>
<line x1="664.4" y1="190.6" x2="779" y2="190.6" stroke="rgba(30,30,30,0.16)" stroke-width="0.7" stroke-dasharray="1 1.6"/>
<line x1="664.4" y1="185.7" x2="779" y2="185.7" stroke="rgba(30,30,30,0.16)" stroke-width="0.7" stroke-dasharray="1 1.6"/>
<line x1="664.4" y1="180.8" x2="779" y2="180.8" stroke="rgba(30,30,30,0.16)" stroke-width="0.7" stroke-dasharray="1 1.6"/>
<line x1="664.4" y1="175.9" x2="779" y2="175.9" stroke="rgba(30,30,30,0.12)" stroke-width="0.8"/>
<line x1="664.4" y1="171" x2="779" y2="171" stroke="rgba(30,30,30,0.16)" stroke-width="0.7" stroke-dasharray="1 1.6"/>
<line x1="664.4" y1="166.1" x2="779" y2="166.1" stroke="rgba(30,30,30,0.16)" stroke-width="0.7" stroke-dasharray="1 1.6"/>
<line x1="664.4" y1="161.2" x2="779" y2="161.2" stroke="rgba(30,30,30,0.16)" stroke-width="0.7" stroke-dasharray="1 1.6"/>
<line x1="664.4" y1="156.3" x2="779" y2="156.3" stroke="rgba(30,30,30,0.16)" stroke-width="0.7" stroke-dasharray="1 1.6"/>
<line x1="664.4" y1="151.4" x2="779" y2="151.4" stroke="rgba(30,30,30,0.12)" stroke-width="0.8"/>
<line x1="664.4" y1="146.5" x2="779" y2="146.5" stroke="rgba(30,30,30,0.16)" stroke-width="0.7" stroke-dasharray="1 1.6"/>
<line x1="664.4" y1="141.6" x2="779" y2="141.6" stroke="rgba(30,30,30,0.16)" stroke-width="0.7" stroke-dasharray="1 1.6"/>
<line x1="664.4" y1="136.7" x2="779" y2="136.7" stroke="rgba(30,30,30,0.16)" stroke-width="0.7" stroke-dasharray="1 1.6"/>
<line x1="664.4" y1="131.8" x2="779" y2="131.8" stroke="rgba(30,30,30,0.16)" stroke-width="0.7" stroke-dasharray="1 1.6"/>
<line x1="664.4" y1="126.9" x2="779" y2="126.9" stroke="rgba(30,30,30,0.12)" stroke-width="0.8"/>
<line x1="664.4" y1="122" x2="779" y2="122" stroke="rgba(30,30,30,0.16)" stroke-width="0.7" stroke-dasharray="1 1.6"/>
<line x1="664.4" y1="117.1" x2="779" y2="117.1" stroke="rgba(30,30,30,0.16)" stroke-width="0.7" stroke-dasharray="1 1.6"/>
<line x1="664.4" y1="112.2" x2="779" y2="112.2" stroke="rgba(30,30,30,0.16)" stroke-width="0.7" stroke-dasharray="1 1.6"/>
<line x1="664.4" y1="107.3" x2="779" y2="107.3" stroke="rgba(30,30,30,0.16)" stroke-width="0.7" stroke-dasharray="1 1.6"/>
<line x1="664.4" y1="102.4" x2="779" y2="102.4" stroke="rgba(30,30,30,0.12)" stroke-width="0.8"/>
<line x1="664.4" y1="97.5" x2="779" y2="97.5" stroke="rgba(30,30,30,0.16)" stroke-width="0.7" stroke-dasharray="1 1.6"/>
<line x1="664.4" y1="92.6" x2="779" y2="92.6" stroke="rgba(30,30,30,0.16)" stroke-width="0.7" stroke-dasharray="1 1.6"/>
<line x1="664.4" y1="87.7" x2="779" y2="87.7" stroke="rgba(30,30,30,0.16)" stroke-width="0.7" stroke-dasharray="1 1.6"/>
<line x1="664.4" y1="82.8" x2="779" y2="82.8" stroke="rgba(30,30,30,0.16)" stroke-width="0.7" stroke-dasharray="1 1.6"/>
<line x1="664.4" y1="77.9" x2="779" y2="77.9" stroke="rgba(30,30,30,0.12)" stroke-width="0.8"/>
<line x1="664.4" y1="73" x2="779" y2="73" stroke="rgba(30,30,30,0.16)" stroke-width="0.7" stroke-dasharray="1 1.6"/>
<line x1="664.4" y1="68.1" x2="779" y2="68.1" stroke="rgba(30,30,30,0.16)" stroke-width="0.7" stroke-dasharray="1 1.6"/>
<line x1="664.4" y1="63.2" x2="779" y2="63.2" stroke="rgba(30,30,30,0.16)" stroke-width="0.7" stroke-dasharray="1 1.6"/>
<line x1="664.4" y1="58.3" x2="779" y2="58.3" stroke="rgba(30,30,30,0.16)" stroke-width="0.7" stroke-dasharray="1 1.6"/>
<line x1="664.4" y1="53.4" x2="779" y2="53.4" stroke="rgba(30,30,30,0.12)" stroke-width="0.8"/>
<line x1="664.4" y1="48.5" x2="779" y2="48.5" stroke="rgba(30,30,30,0.16)" stroke-width="0.7" stroke-dasharray="1 1.6"/>
<line x1="664.4" y1="43.6" x2="779" y2="43.6" stroke="rgba(30,30,30,0.16)" stroke-width="0.7" stroke-dasharray="1 1.6"/>
<line x1="664.4" y1="38.7" x2="779" y2="38.7" stroke="rgba(30,30,30,0.16)" stroke-width="0.7" stroke-dasharray="1 1.6"/>
<line x1="664.4" y1="33.8" x2="779" y2="33.8" stroke="rgba(30,30,30,0.16)" stroke-width="0.7" stroke-dasharray="1 1.6"/>
<line x1="664.4" y1="28.9" x2="779" y2="28.9" stroke="rgba(30,30,30,0.12)" stroke-width="0.8"/>
<line x1="664.4" y1="24" x2="779" y2="24" stroke="rgba(30,30,30,0.16)" stroke-width="0.7" stroke-dasharray="1 1.6"/>
<line x1="664.4" y1="19.1" x2="779" y2="19.1" stroke="rgba(30,30,30,0.16)" stroke-width="0.7" stroke-dasharray="1 1.6"/>
<line x1="664.4" y1="14.2" x2="779" y2="14.2" stroke="rgba(30,30,30,0.16)" stroke-width="0.7" stroke-dasharray="1 1.6"/>
<line x1="664.4" y1="9.3" x2="779" y2="9.3" stroke="rgba(30,30,30,0.16)" stroke-width="0.7" stroke-dasharray="1 1.6"/>
<line x1="664.4" y1="4.4" x2="779" y2="4.4" stroke="rgba(30,30,30,0.12)" stroke-width="0.8"/>
<line x1="677.4" y1="4.5" x2="677.4" y2="224.4" stroke="rgba(30,30,30,0.16)" stroke-width="0.7" stroke-dasharray="1 1.6"/>
<line x1="688.4" y1="4.5" x2="688.4" y2="224.4" stroke="rgba(30,30,30,0.16)" stroke-width="0.7" stroke-dasharray="1 1.6"/>
<line x1="699.4" y1="4.5" x2="699.4" y2="224.4" stroke="rgba(30,30,30,0.16)" stroke-width="0.7" stroke-dasharray="1 1.6"/>
<line x1="710.4" y1="4.5" x2="710.4" y2="224.4" stroke="rgba(30,30,30,0.16)" stroke-width="0.7" stroke-dasharray="1 1.6"/>
<line x1="721.4" y1="4.5" x2="721.4" y2="224.4" stroke="rgba(30,30,30,0.16)" stroke-width="0.7" stroke-dasharray="1 1.6"/>
<line x1="732.3" y1="4.5" x2="732.3" y2="224.4" stroke="rgba(30,30,30,0.16)" stroke-width="0.7" stroke-dasharray="1 1.6"/>
<line x1="743.3" y1="4.5" x2="743.3" y2="224.4" stroke="rgba(30,30,30,0.16)" stroke-width="0.7" stroke-dasharray="1 1.6"/>
<line x1="754.3" y1="4.5" x2="754.3" y2="224.4" stroke="rgba(30,30,30,0.16)" stroke-width="0.7" stroke-dasharray="1 1.6"/>
<line x1="765.3" y1="4.5" x2="765.3" y2="224.4" stroke="rgba(30,30,30,0.16)" stroke-width="0.7" stroke-dasharray="1 1.6"/>
<line x1="776.3" y1="4.5" x2="776.3" y2="224.4" stroke="rgba(30,30,30,0.16)" stroke-width="0.7" stroke-dasharray="1 1.6"/>
<line x1="693.9" y1="4.5" x2="693.9" y2="224.4" stroke="rgba(30,30,30,0.12)" stroke-width="0.8"/>
<line x1="748.4" y1="4.5" x2="748.4" y2="224.4" stroke="rgba(30,30,30,0.12)" stroke-width="0.8"/>
<line x1="693.9" y1="72.4" x2="693.9" y2="54.4" stroke="#000" stroke-width="1.5" stroke-dasharray="5 4"/>
<line x1="671.4" y1="54.4" x2="716.4" y2="54.4" stroke="#000" stroke-width="1.6"/>
<line x1="693.9" y1="84.9" x2="693.9" y2="97.2" stroke="#000" stroke-width="1.5" stroke-dasharray="5 4"/>
<line x1="671.4" y1="97.2" x2="716.4" y2="97.2" stroke="#000" stroke-width="1.6"/>
<rect x="670.9" y="72.4" width="46" height="12.5" fill="#62a494" stroke="#000" stroke-width="1.6"/>
<line x1="671.7" y1="79.3" x2="716.1" y2="79.3" stroke="#cdc400" stroke-width="1.5"/>
<line x1="748.4" y1="144.3" x2="748.4" y2="113.5" stroke="#000" stroke-width="1.5" stroke-dasharray="5 4"/>
<line x1="726.1" y1="113.5" x2="770.7" y2="113.5" stroke="#000" stroke-width="1.6"/>
<line x1="748.4" y1="170" x2="748.4" y2="197.6" stroke="#000" stroke-width="1.5" stroke-dasharray="5 4"/>
<line x1="726.1" y1="197.6" x2="770.7" y2="197.6" stroke="#000" stroke-width="1.6"/>
<rect x="725.6" y="144.3" width="45.6" height="25.7" fill="#e63200" stroke="#000" stroke-width="1.6"/>
<line x1="726.4" y1="161.4" x2="770.4" y2="161.4" stroke="#cdc400" stroke-width="1.5"/>
<line x1="664.4" y1="224.9" x2="668.4" y2="224.9" stroke="#000" stroke-width="2"/>
<text x="659.4" y="227.6" font-size="8.9" text-anchor="end" >20</text>
<line x1="664.4" y1="200.4" x2="668.4" y2="200.4" stroke="#000" stroke-width="2"/>
<text x="659.4" y="203.1" font-size="8.9" text-anchor="end" >25</text>
<line x1="664.4" y1="175.9" x2="668.4" y2="175.9" stroke="#000" stroke-width="2"/>
<text x="659.4" y="178.6" font-size="8.9" text-anchor="end" >30</text>
<line x1="664.4" y1="151.4" x2="668.4" y2="151.4" stroke="#000" stroke-width="2"/>
<text x="659.4" y="154.1" font-size="8.9" text-anchor="end" >35</text>
<line x1="664.4" y1="126.9" x2="668.4" y2="126.9" stroke="#000" stroke-width="2"/>
<text x="659.4" y="129.6" font-size="8.9" text-anchor="end" >40</text>
<line x1="664.4" y1="102.4" x2="668.4" y2="102.4" stroke="#000" stroke-width="2"/>
<text x="659.4" y="105.1" font-size="8.9" text-anchor="end" >45</text>
<line x1="664.4" y1="77.9" x2="668.4" y2="77.9" stroke="#000" stroke-width="2"/>
<text x="659.4" y="80.6" font-size="8.9" text-anchor="end" >50</text>
<line x1="664.4" y1="53.4" x2="668.4" y2="53.4" stroke="#000" stroke-width="2"/>
<text x="659.4" y="56.1" font-size="8.9" text-anchor="end" >55</text>
<line x1="664.4" y1="28.9" x2="668.4" y2="28.9" stroke="#000" stroke-width="2"/>
<text x="659.4" y="31.6" font-size="8.9" text-anchor="end" >60</text>
<line x1="664.4" y1="4.4" x2="668.4" y2="4.4" stroke="#000" stroke-width="2"/>
<text x="659.4" y="7.1" font-size="8.9" text-anchor="end" >65</text>
<line x1="693.9" y1="224.4" x2="693.9" y2="220.4" stroke="#000" stroke-width="2"/>
<line x1="748.4" y1="224.4" x2="748.4" y2="220.4" stroke="#000" stroke-width="2"/>
<text x="693.4" y="237.3" font-size="8.9" text-anchor="middle" >Early</text>
<text x="748" y="237.3" font-size="8.9" text-anchor="middle" >Late</text>
<path d="M664.4,4 L664.4,224.4 L779,224.4" fill="none" stroke="#000" stroke-width="2.1"/>
<text transform="translate(640.2,114.8) rotate(-90)" font-size="9.8" text-anchor="middle">Percent reduction in rBF<tspan font-size="5.5" dy="2.2">i</tspan></text>
<text x="630.6" y="14.7" font-size="11.5" text-anchor="start" >(c)</text>
<line x1="664.4" y1="478.42" x2="779" y2="478.42" stroke="rgba(30,30,30,0.16)" stroke-width="0.7" stroke-dasharray="1 1.6"/>
<line x1="664.4" y1="473.52" x2="779" y2="473.52" stroke="rgba(30,30,30,0.16)" stroke-width="0.7" stroke-dasharray="1 1.6"/>
<line x1="664.4" y1="468.61" x2="779" y2="468.61" stroke="rgba(30,30,30,0.16)" stroke-width="0.7" stroke-dasharray="1 1.6"/>
<line x1="664.4" y1="463.71" x2="779" y2="463.71" stroke="rgba(30,30,30,0.16)" stroke-width="0.7" stroke-dasharray="1 1.6"/>
<line x1="664.4" y1="458.8" x2="779" y2="458.8" stroke="rgba(30,30,30,0.12)" stroke-width="0.8"/>
<line x1="664.4" y1="453.9" x2="779" y2="453.9" stroke="rgba(30,30,30,0.16)" stroke-width="0.7" stroke-dasharray="1 1.6"/>
<line x1="664.4" y1="448.99" x2="779" y2="448.99" stroke="rgba(30,30,30,0.16)" stroke-width="0.7" stroke-dasharray="1 1.6"/>
<line x1="664.4" y1="444.09" x2="779" y2="444.09" stroke="rgba(30,30,30,0.16)" stroke-width="0.7" stroke-dasharray="1 1.6"/>
<line x1="664.4" y1="439.18" x2="779" y2="439.18" stroke="rgba(30,30,30,0.16)" stroke-width="0.7" stroke-dasharray="1 1.6"/>
<line x1="664.4" y1="434.28" x2="779" y2="434.28" stroke="rgba(30,30,30,0.12)" stroke-width="0.8"/>
<line x1="664.4" y1="429.37" x2="779" y2="429.37" stroke="rgba(30,30,30,0.16)" stroke-width="0.7" stroke-dasharray="1 1.6"/>
<line x1="664.4" y1="424.47" x2="779" y2="424.47" stroke="rgba(30,30,30,0.16)" stroke-width="0.7" stroke-dasharray="1 1.6"/>
<line x1="664.4" y1="419.56" x2="779" y2="419.56" stroke="rgba(30,30,30,0.16)" stroke-width="0.7" stroke-dasharray="1 1.6"/>
<line x1="664.4" y1="414.66" x2="779" y2="414.66" stroke="rgba(30,30,30,0.16)" stroke-width="0.7" stroke-dasharray="1 1.6"/>
<line x1="664.4" y1="409.75" x2="779" y2="409.75" stroke="rgba(30,30,30,0.12)" stroke-width="0.8"/>
<line x1="664.4" y1="404.85" x2="779" y2="404.85" stroke="rgba(30,30,30,0.16)" stroke-width="0.7" stroke-dasharray="1 1.6"/>
<line x1="664.4" y1="399.94" x2="779" y2="399.94" stroke="rgba(30,30,30,0.16)" stroke-width="0.7" stroke-dasharray="1 1.6"/>
<line x1="664.4" y1="395.04" x2="779" y2="395.04" stroke="rgba(30,30,30,0.16)" stroke-width="0.7" stroke-dasharray="1 1.6"/>
<line x1="664.4" y1="390.13" x2="779" y2="390.13" stroke="rgba(30,30,30,0.16)" stroke-width="0.7" stroke-dasharray="1 1.6"/>
<line x1="664.4" y1="385.23" x2="779" y2="385.23" stroke="rgba(30,30,30,0.12)" stroke-width="0.8"/>
<line x1="664.4" y1="380.32" x2="779" y2="380.32" stroke="rgba(30,30,30,0.16)" stroke-width="0.7" stroke-dasharray="1 1.6"/>
<line x1="664.4" y1="375.42" x2="779" y2="375.42" stroke="rgba(30,30,30,0.16)" stroke-width="0.7" stroke-dasharray="1 1.6"/>
<line x1="664.4" y1="370.51" x2="779" y2="370.51" stroke="rgba(30,30,30,0.16)" stroke-width="0.7" stroke-dasharray="1 1.6"/>
<line x1="664.4" y1="365.61" x2="779" y2="365.61" stroke="rgba(30,30,30,0.16)" stroke-width="0.7" stroke-dasharray="1 1.6"/>
<line x1="664.4" y1="360.7" x2="779" y2="360.7" stroke="rgba(30,30,30,0.12)" stroke-width="0.8"/>
<line x1="664.4" y1="355.8" x2="779" y2="355.8" stroke="rgba(30,30,30,0.16)" stroke-width="0.7" stroke-dasharray="1 1.6"/>
<line x1="664.4" y1="350.89" x2="779" y2="350.89" stroke="rgba(30,30,30,0.16)" stroke-width="0.7" stroke-dasharray="1 1.6"/>
<line x1="664.4" y1="345.99" x2="779" y2="345.99" stroke="rgba(30,30,30,0.16)" stroke-width="0.7" stroke-dasharray="1 1.6"/>
<line x1="664.4" y1="341.08" x2="779" y2="341.08" stroke="rgba(30,30,30,0.16)" stroke-width="0.7" stroke-dasharray="1 1.6"/>
<line x1="664.4" y1="336.18" x2="779" y2="336.18" stroke="rgba(30,30,30,0.12)" stroke-width="0.8"/>
<line x1="664.4" y1="331.27" x2="779" y2="331.27" stroke="rgba(30,30,30,0.16)" stroke-width="0.7" stroke-dasharray="1 1.6"/>
<line x1="664.4" y1="326.37" x2="779" y2="326.37" stroke="rgba(30,30,30,0.16)" stroke-width="0.7" stroke-dasharray="1 1.6"/>
<line x1="664.4" y1="321.46" x2="779" y2="321.46" stroke="rgba(30,30,30,0.16)" stroke-width="0.7" stroke-dasharray="1 1.6"/>
<line x1="664.4" y1="316.56" x2="779" y2="316.56" stroke="rgba(30,30,30,0.16)" stroke-width="0.7" stroke-dasharray="1 1.6"/>
<line x1="664.4" y1="311.65" x2="779" y2="311.65" stroke="rgba(30,30,30,0.12)" stroke-width="0.8"/>
<line x1="664.4" y1="306.75" x2="779" y2="306.75" stroke="rgba(30,30,30,0.16)" stroke-width="0.7" stroke-dasharray="1 1.6"/>
<line x1="664.4" y1="301.84" x2="779" y2="301.84" stroke="rgba(30,30,30,0.16)" stroke-width="0.7" stroke-dasharray="1 1.6"/>
<line x1="664.4" y1="296.94" x2="779" y2="296.94" stroke="rgba(30,30,30,0.16)" stroke-width="0.7" stroke-dasharray="1 1.6"/>
<line x1="664.4" y1="292.03" x2="779" y2="292.03" stroke="rgba(30,30,30,0.16)" stroke-width="0.7" stroke-dasharray="1 1.6"/>
<line x1="664.4" y1="287.12" x2="779" y2="287.12" stroke="rgba(30,30,30,0.12)" stroke-width="0.8"/>
<line x1="664.4" y1="282.22" x2="779" y2="282.22" stroke="rgba(30,30,30,0.16)" stroke-width="0.7" stroke-dasharray="1 1.6"/>
<line x1="664.4" y1="277.31" x2="779" y2="277.31" stroke="rgba(30,30,30,0.16)" stroke-width="0.7" stroke-dasharray="1 1.6"/>
<line x1="664.4" y1="272.41" x2="779" y2="272.41" stroke="rgba(30,30,30,0.16)" stroke-width="0.7" stroke-dasharray="1 1.6"/>
<line x1="664.4" y1="267.5" x2="779" y2="267.5" stroke="rgba(30,30,30,0.16)" stroke-width="0.7" stroke-dasharray="1 1.6"/>
<line x1="664.4" y1="262.6" x2="779" y2="262.6" stroke="rgba(30,30,30,0.12)" stroke-width="0.8"/>
<line x1="677.4" y1="262.5" x2="677.4" y2="483.3" stroke="rgba(30,30,30,0.16)" stroke-width="0.7" stroke-dasharray="1 1.6"/>
<line x1="688.4" y1="262.5" x2="688.4" y2="483.3" stroke="rgba(30,30,30,0.16)" stroke-width="0.7" stroke-dasharray="1 1.6"/>
<line x1="699.4" y1="262.5" x2="699.4" y2="483.3" stroke="rgba(30,30,30,0.16)" stroke-width="0.7" stroke-dasharray="1 1.6"/>
<line x1="710.4" y1="262.5" x2="710.4" y2="483.3" stroke="rgba(30,30,30,0.16)" stroke-width="0.7" stroke-dasharray="1 1.6"/>
<line x1="721.4" y1="262.5" x2="721.4" y2="483.3" stroke="rgba(30,30,30,0.16)" stroke-width="0.7" stroke-dasharray="1 1.6"/>
<line x1="732.3" y1="262.5" x2="732.3" y2="483.3" stroke="rgba(30,30,30,0.16)" stroke-width="0.7" stroke-dasharray="1 1.6"/>
<line x1="743.3" y1="262.5" x2="743.3" y2="483.3" stroke="rgba(30,30,30,0.16)" stroke-width="0.7" stroke-dasharray="1 1.6"/>
<line x1="754.3" y1="262.5" x2="754.3" y2="483.3" stroke="rgba(30,30,30,0.16)" stroke-width="0.7" stroke-dasharray="1 1.6"/>
<line x1="765.3" y1="262.5" x2="765.3" y2="483.3" stroke="rgba(30,30,30,0.16)" stroke-width="0.7" stroke-dasharray="1 1.6"/>
<line x1="776.3" y1="262.5" x2="776.3" y2="483.3" stroke="rgba(30,30,30,0.16)" stroke-width="0.7" stroke-dasharray="1 1.6"/>
<line x1="693.9" y1="262.5" x2="693.9" y2="483.3" stroke="rgba(30,30,30,0.12)" stroke-width="0.8"/>
<line x1="748.4" y1="262.5" x2="748.4" y2="483.3" stroke="rgba(30,30,30,0.12)" stroke-width="0.8"/>
<line x1="693.9" y1="273.4" x2="693.9" y2="268.7" stroke="#000" stroke-width="1.5" stroke-dasharray="5 4"/>
<line x1="671.5" y1="268.7" x2="716.5" y2="268.7" stroke="#000" stroke-width="1.6"/>
<rect x="671" y="273.4" width="46" height="22" fill="#62a494" stroke="#000" stroke-width="1.6"/>
<line x1="671.8" y1="287.4" x2="716.2" y2="287.4" stroke="#cdc400" stroke-width="1.5"/>
<line x1="748.4" y1="390.9" x2="748.4" y2="322.4" stroke="#000" stroke-width="1.5" stroke-dasharray="5 4"/>
<line x1="726.4" y1="322.4" x2="770.8" y2="322.4" stroke="#000" stroke-width="1.6"/>
<line x1="748.4" y1="436.3" x2="748.4" y2="460" stroke="#000" stroke-width="1.5" stroke-dasharray="5 4"/>
<line x1="726.4" y1="460" x2="770.8" y2="460" stroke="#000" stroke-width="1.6"/>
<rect x="725.9" y="390.9" width="45.4" height="45.4" fill="#e63200" stroke="#000" stroke-width="1.6"/>
<line x1="726.7" y1="413.3" x2="770.5" y2="413.3" stroke="#cdc400" stroke-width="1.5"/>
<path d="M746.1,273 L750.7,277.6 M746.1,277.6 L750.7,273" stroke="#f01818" stroke-width="1.6"/>
<line x1="664.4" y1="483.33" x2="668.4" y2="483.33" stroke="#000" stroke-width="2"/>
<text x="659.4" y="486.03" font-size="8.9" text-anchor="end" >20</text>
<line x1="664.4" y1="458.8" x2="668.4" y2="458.8" stroke="#000" stroke-width="2"/>
<text x="659.4" y="461.5" font-size="8.9" text-anchor="end" >25</text>
<line x1="664.4" y1="434.28" x2="668.4" y2="434.28" stroke="#000" stroke-width="2"/>
<text x="659.4" y="436.98" font-size="8.9" text-anchor="end" >30</text>
<line x1="664.4" y1="409.75" x2="668.4" y2="409.75" stroke="#000" stroke-width="2"/>
<text x="659.4" y="412.45" font-size="8.9" text-anchor="end" >35</text>
<line x1="664.4" y1="385.23" x2="668.4" y2="385.23" stroke="#000" stroke-width="2"/>
<text x="659.4" y="387.93" font-size="8.9" text-anchor="end" >40</text>
<line x1="664.4" y1="360.7" x2="668.4" y2="360.7" stroke="#000" stroke-width="2"/>
<text x="659.4" y="363.4" font-size="8.9" text-anchor="end" >45</text>
<line x1="664.4" y1="336.18" x2="668.4" y2="336.18" stroke="#000" stroke-width="2"/>
<text x="659.4" y="338.88" font-size="8.9" text-anchor="end" >50</text>
<line x1="664.4" y1="311.65" x2="668.4" y2="311.65" stroke="#000" stroke-width="2"/>
<text x="659.4" y="314.35" font-size="8.9" text-anchor="end" >55</text>
<line x1="664.4" y1="287.12" x2="668.4" y2="287.12" stroke="#000" stroke-width="2"/>
<text x="659.4" y="289.82" font-size="8.9" text-anchor="end" >60</text>
<line x1="664.4" y1="262.6" x2="668.4" y2="262.6" stroke="#000" stroke-width="2"/>
<text x="659.4" y="265.3" font-size="8.9" text-anchor="end" >65</text>
<line x1="693.9" y1="483.3" x2="693.9" y2="479.3" stroke="#000" stroke-width="2"/>
<line x1="748.4" y1="483.3" x2="748.4" y2="479.3" stroke="#000" stroke-width="2"/>
<text x="693.4" y="495.4" font-size="8.9" text-anchor="middle" >Early</text>
<text x="748" y="495.4" font-size="8.9" text-anchor="middle" >Late</text>
<path d="M664.4,262 L664.4,483.3 L779,483.3" fill="none" stroke="#000" stroke-width="2.1"/>
<text transform="translate(640.2,373.2) rotate(-90)" font-size="9.8" text-anchor="middle">Percent reduction in pulsatile rBF<tspan font-size="5.5" dy="2.2">i</tspan></text>
<text x="630.6" y="276" font-size="11.5" text-anchor="start" >(f)</text>
<line x1="52.84" y1="265.7" x2="52.84" y2="485.7" stroke="rgba(30,30,30,0.16)" stroke-width="0.7" stroke-dasharray="1 1.6"/>
<line x1="66.49" y1="265.7" x2="66.49" y2="485.7" stroke="rgba(30,30,30,0.16)" stroke-width="0.7" stroke-dasharray="1 1.6"/>
<line x1="80.14" y1="265.7" x2="80.14" y2="485.7" stroke="rgba(30,30,30,0.16)" stroke-width="0.7" stroke-dasharray="1 1.6"/>
<line x1="93.78" y1="265.7" x2="93.78" y2="485.7" stroke="rgba(30,30,30,0.12)" stroke-width="0.8"/>
<line x1="107.42" y1="265.7" x2="107.42" y2="485.7" stroke="rgba(30,30,30,0.16)" stroke-width="0.7" stroke-dasharray="1 1.6"/>
<line x1="121.07" y1="265.7" x2="121.07" y2="485.7" stroke="rgba(30,30,30,0.16)" stroke-width="0.7" stroke-dasharray="1 1.6"/>
<line x1="134.72" y1="265.7" x2="134.72" y2="485.7" stroke="rgba(30,30,30,0.16)" stroke-width="0.7" stroke-dasharray="1 1.6"/>
<line x1="148.36" y1="265.7" x2="148.36" y2="485.7" stroke="rgba(30,30,30,0.12)" stroke-width="0.8"/>
<line x1="162" y1="265.7" x2="162" y2="485.7" stroke="rgba(30,30,30,0.16)" stroke-width="0.7" stroke-dasharray="1 1.6"/>
<line x1="175.65" y1="265.7" x2="175.65" y2="485.7" stroke="rgba(30,30,30,0.16)" stroke-width="0.7" stroke-dasharray="1 1.6"/>
<line x1="189.3" y1="265.7" x2="189.3" y2="485.7" stroke="rgba(30,30,30,0.16)" stroke-width="0.7" stroke-dasharray="1 1.6"/>
<line x1="202.94" y1="265.7" x2="202.94" y2="485.7" stroke="rgba(30,30,30,0.12)" stroke-width="0.8"/>
<line x1="216.58" y1="265.7" x2="216.58" y2="485.7" stroke="rgba(30,30,30,0.16)" stroke-width="0.7" stroke-dasharray="1 1.6"/>
<line x1="230.23" y1="265.7" x2="230.23" y2="485.7" stroke="rgba(30,30,30,0.16)" stroke-width="0.7" stroke-dasharray="1 1.6"/>
<line x1="243.88" y1="265.7" x2="243.88" y2="485.7" stroke="rgba(30,30,30,0.16)" stroke-width="0.7" stroke-dasharray="1 1.6"/>
<line x1="257.52" y1="265.7" x2="257.52" y2="485.7" stroke="rgba(30,30,30,0.12)" stroke-width="0.8"/>
<line x1="271.17" y1="265.7" x2="271.17" y2="485.7" stroke="rgba(30,30,30,0.16)" stroke-width="0.7" stroke-dasharray="1 1.6"/>
<line x1="284.81" y1="265.7" x2="284.81" y2="485.7" stroke="rgba(30,30,30,0.16)" stroke-width="0.7" stroke-dasharray="1 1.6"/>
<line x1="298.45" y1="265.7" x2="298.45" y2="485.7" stroke="rgba(30,30,30,0.16)" stroke-width="0.7" stroke-dasharray="1 1.6"/>
<line x1="312.1" y1="265.7" x2="312.1" y2="485.7" stroke="rgba(30,30,30,0.12)" stroke-width="0.8"/>
<line x1="39.2" y1="477.56" x2="313.3" y2="477.56" stroke="rgba(30,30,30,0.16)" stroke-width="0.7" stroke-dasharray="1 1.6"/>
<line x1="39.2" y1="469.71" x2="313.3" y2="469.71" stroke="rgba(30,30,30,0.16)" stroke-width="0.7" stroke-dasharray="1 1.6"/>
<line x1="39.2" y1="461.86" x2="313.3" y2="461.86" stroke="rgba(30,30,30,0.16)" stroke-width="0.7" stroke-dasharray="1 1.6"/>
<line x1="39.2" y1="454.02" x2="313.3" y2="454.02" stroke="rgba(30,30,30,0.12)" stroke-width="0.8"/>
<line x1="39.2" y1="446.17" x2="313.3" y2="446.17" stroke="rgba(30,30,30,0.16)" stroke-width="0.7" stroke-dasharray="1 1.6"/>
<line x1="39.2" y1="438.32" x2="313.3" y2="438.32" stroke="rgba(30,30,30,0.16)" stroke-width="0.7" stroke-dasharray="1 1.6"/>
<line x1="39.2" y1="430.48" x2="313.3" y2="430.48" stroke="rgba(30,30,30,0.16)" stroke-width="0.7" stroke-dasharray="1 1.6"/>
<line x1="39.2" y1="422.63" x2="313.3" y2="422.63" stroke="rgba(30,30,30,0.12)" stroke-width="0.8"/>
<line x1="39.2" y1="414.78" x2="313.3" y2="414.78" stroke="rgba(30,30,30,0.16)" stroke-width="0.7" stroke-dasharray="1 1.6"/>
<line x1="39.2" y1="406.94" x2="313.3" y2="406.94" stroke="rgba(30,30,30,0.16)" stroke-width="0.7" stroke-dasharray="1 1.6"/>
<line x1="39.2" y1="399.09" x2="313.3" y2="399.09" stroke="rgba(30,30,30,0.16)" stroke-width="0.7" stroke-dasharray="1 1.6"/>
<line x1="39.2" y1="391.24" x2="313.3" y2="391.24" stroke="rgba(30,30,30,0.12)" stroke-width="0.8"/>
<line x1="39.2" y1="383.4" x2="313.3" y2="383.4" stroke="rgba(30,30,30,0.16)" stroke-width="0.7" stroke-dasharray="1 1.6"/>
<line x1="39.2" y1="375.55" x2="313.3" y2="375.55" stroke="rgba(30,30,30,0.16)" stroke-width="0.7" stroke-dasharray="1 1.6"/>
<line x1="39.2" y1="367.7" x2="313.3" y2="367.7" stroke="rgba(30,30,30,0.16)" stroke-width="0.7" stroke-dasharray="1 1.6"/>
<line x1="39.2" y1="359.86" x2="313.3" y2="359.86" stroke="rgba(30,30,30,0.12)" stroke-width="0.8"/>
<line x1="39.2" y1="352.01" x2="313.3" y2="352.01" stroke="rgba(30,30,30,0.16)" stroke-width="0.7" stroke-dasharray="1 1.6"/>
<line x1="39.2" y1="344.16" x2="313.3" y2="344.16" stroke="rgba(30,30,30,0.16)" stroke-width="0.7" stroke-dasharray="1 1.6"/>
<line x1="39.2" y1="336.32" x2="313.3" y2="336.32" stroke="rgba(30,30,30,0.16)" stroke-width="0.7" stroke-dasharray="1 1.6"/>
<line x1="39.2" y1="328.47" x2="313.3" y2="328.47" stroke="rgba(30,30,30,0.12)" stroke-width="0.8"/>
<line x1="39.2" y1="320.63" x2="313.3" y2="320.63" stroke="rgba(30,30,30,0.16)" stroke-width="0.7" stroke-dasharray="1 1.6"/>
<line x1="39.2" y1="312.78" x2="313.3" y2="312.78" stroke="rgba(30,30,30,0.16)" stroke-width="0.7" stroke-dasharray="1 1.6"/>
<line x1="39.2" y1="304.93" x2="313.3" y2="304.93" stroke="rgba(30,30,30,0.16)" stroke-width="0.7" stroke-dasharray="1 1.6"/>
<line x1="39.2" y1="297.09" x2="313.3" y2="297.09" stroke="rgba(30,30,30,0.12)" stroke-width="0.8"/>
<line x1="39.2" y1="289.24" x2="313.3" y2="289.24" stroke="rgba(30,30,30,0.16)" stroke-width="0.7" stroke-dasharray="1 1.6"/>
<line x1="39.2" y1="281.39" x2="313.3" y2="281.39" stroke="rgba(30,30,30,0.16)" stroke-width="0.7" stroke-dasharray="1 1.6"/>
<line x1="39.2" y1="273.55" x2="313.3" y2="273.55" stroke="rgba(30,30,30,0.16)" stroke-width="0.7" stroke-dasharray="1 1.6"/>
<line x1="39.2" y1="265.7" x2="313.3" y2="265.7" stroke="rgba(30,30,30,0.12)" stroke-width="0.8"/>
<line x1="39.2" y1="485.7" x2="39.2" y2="481.7" stroke="#000" stroke-width="2"/>
<text x="38.4" y="497.6" font-size="8.9" text-anchor="middle" >0</text>
<line x1="93.78" y1="485.7" x2="93.78" y2="481.7" stroke="#000" stroke-width="2"/>
<text x="92.98" y="497.6" font-size="8.9" text-anchor="middle" >0.2</text>
<line x1="148.36" y1="485.7" x2="148.36" y2="481.7" stroke="#000" stroke-width="2"/>
<text x="147.56" y="497.6" font-size="8.9" text-anchor="middle" >0.4</text>
<line x1="202.94" y1="485.7" x2="202.94" y2="481.7" stroke="#000" stroke-width="2"/>
<text x="202.14" y="497.6" font-size="8.9" text-anchor="middle" >0.6</text>
<line x1="257.52" y1="485.7" x2="257.52" y2="481.7" stroke="#000" stroke-width="2"/>
<text x="256.72" y="497.6" font-size="8.9" text-anchor="middle" >0.8</text>
<line x1="312.1" y1="485.7" x2="312.1" y2="481.7" stroke="#000" stroke-width="2"/>
<text x="311.3" y="497.6" font-size="8.9" text-anchor="middle" >1</text>
<line x1="39.2" y1="485.4" x2="43.2" y2="485.4" stroke="#000" stroke-width="2"/>
<text x="33.6" y="488.8" font-size="8.9" text-anchor="end" >0.2</text>
<line x1="39.2" y1="454.02" x2="43.2" y2="454.02" stroke="#000" stroke-width="2"/>
<text x="33.6" y="457.42" font-size="8.9" text-anchor="end" >0.4</text>
<line x1="39.2" y1="422.63" x2="43.2" y2="422.63" stroke="#000" stroke-width="2"/>
<text x="33.6" y="426.03" font-size="8.9" text-anchor="end" >0.6</text>
<line x1="39.2" y1="391.24" x2="43.2" y2="391.24" stroke="#000" stroke-width="2"/>
<text x="33.6" y="394.64" font-size="8.9" text-anchor="end" >0.8</text>
<line x1="39.2" y1="359.86" x2="43.2" y2="359.86" stroke="#000" stroke-width="2"/>
<text x="33.6" y="363.26" font-size="8.9" text-anchor="end" >1</text>
<line x1="39.2" y1="328.47" x2="43.2" y2="328.47" stroke="#000" stroke-width="2"/>
<text x="33.6" y="331.87" font-size="8.9" text-anchor="end" >1.2</text>
<line x1="39.2" y1="297.09" x2="43.2" y2="297.09" stroke="#000" stroke-width="2"/>
<text x="33.6" y="300.49" font-size="8.9" text-anchor="end" >1.4</text>
<line x1="39.2" y1="265.7" x2="43.2" y2="265.7" stroke="#000" stroke-width="2"/>
<text x="33.6" y="269.1" font-size="8.9" text-anchor="end" >1.6</text>
<path d="M39.2,265.2 L39.2,485.7 L313.3,485.7" fill="none" stroke="#000" stroke-width="2.1"/>
<path d="M39.2,412 L50.12,410.8 L61.03,403.2 L71.95,377.8 L82.86,350.5 L93.78,321.9 L104.7,306 L115.61,296.3 L126.53,302.8 L137.44,312.4 L148.36,324 L159.28,338.2 L170.19,348.7 L181.11,353.7 L192.02,357 L202.94,359.8 L213.86,367.6 L224.77,377 L235.69,386.2 L246.6,393.3 L257.52,398.7 L268.44,402.6 L279.35,406.4 L290.27,412 L301.18,415.9 L312.1,417.7" fill="none" stroke="#78bca4" stroke-width="2.2" stroke-linejoin="round"/>
<path d="M39.2,456.2 L50.12,455.6 L61.03,454.4 L71.95,444.1 L82.86,433.3 L93.78,421 L104.7,414.6 L115.61,410.3 L126.53,412.6 L137.44,416.7 L148.36,421 L159.28,427.4 L170.19,431.9 L181.11,434.4 L192.02,435.6 L202.94,437.7 L213.86,440.8 L224.77,443.3 L235.69,446.7 L246.6,449.2 L257.52,451.8 L268.44,454.1 L279.35,456.2 L290.27,456.9 L301.18,457.7 L312.1,457.9" fill="none" stroke="#4e8a78" stroke-width="2.2" stroke-linejoin="round"/>
<circle cx="39.2" cy="412" r="3.95" fill="#78bca4"/>
<circle cx="50.12" cy="410.8" r="3.95" fill="#78bca4"/>
<circle cx="61.03" cy="403.2" r="3.95" fill="#78bca4"/>
<circle cx="71.95" cy="377.8" r="3.95" fill="#78bca4"/>
<circle cx="82.86" cy="350.5" r="3.95" fill="#78bca4"/>
<circle cx="93.78" cy="321.9" r="3.95" fill="#78bca4"/>
<circle cx="104.7" cy="306" r="3.95" fill="#78bca4"/>
<circle cx="115.61" cy="296.3" r="3.95" fill="#78bca4"/>
<circle cx="126.53" cy="302.8" r="3.95" fill="#78bca4"/>
<circle cx="137.44" cy="312.4" r="3.95" fill="#78bca4"/>
<circle cx="148.36" cy="324" r="3.95" fill="#78bca4"/>
<circle cx="159.28" cy="338.2" r="3.95" fill="#78bca4"/>
<circle cx="170.19" cy="348.7" r="3.95" fill="#78bca4"/>
<circle cx="181.11" cy="353.7" r="3.95" fill="#78bca4"/>
<circle cx="192.02" cy="357" r="3.95" fill="#78bca4"/>
<circle cx="202.94" cy="359.8" r="3.95" fill="#78bca4"/>
<circle cx="213.86" cy="367.6" r="3.95" fill="#78bca4"/>
<circle cx="224.77" cy="377" r="3.95" fill="#78bca4"/>
<circle cx="235.69" cy="386.2" r="3.95" fill="#78bca4"/>
<circle cx="246.6" cy="393.3" r="3.95" fill="#78bca4"/>
<circle cx="257.52" cy="398.7" r="3.95" fill="#78bca4"/>
<circle cx="268.44" cy="402.6" r="3.95" fill="#78bca4"/>
<circle cx="279.35" cy="406.4" r="3.95" fill="#78bca4"/>
<circle cx="290.27" cy="412" r="3.95" fill="#78bca4"/>
<circle cx="301.18" cy="415.9" r="3.95" fill="#78bca4"/>
<circle cx="312.1" cy="417.7" r="3.95" fill="#78bca4"/>
<rect x="36" y="453" width="6.4" height="6.4" fill="#4e8a78"/>
<rect x="46.92" y="452.4" width="6.4" height="6.4" fill="#4e8a78"/>
<rect x="57.83" y="451.2" width="6.4" height="6.4" fill="#4e8a78"/>
<rect x="68.75" y="440.9" width="6.4" height="6.4" fill="#4e8a78"/>
<rect x="79.66" y="430.1" width="6.4" height="6.4" fill="#4e8a78"/>
<rect x="90.58" y="417.8" width="6.4" height="6.4" fill="#4e8a78"/>
<rect x="101.5" y="411.4" width="6.4" height="6.4" fill="#4e8a78"/>
<rect x="112.41" y="407.1" width="6.4" height="6.4" fill="#4e8a78"/>
<rect x="123.33" y="409.4" width="6.4" height="6.4" fill="#4e8a78"/>
<rect x="134.24" y="413.5" width="6.4" height="6.4" fill="#4e8a78"/>
<rect x="145.16" y="417.8" width="6.4" height="6.4" fill="#4e8a78"/>
<rect x="156.08" y="424.2" width="6.4" height="6.4" fill="#4e8a78"/>
<rect x="166.99" y="428.7" width="6.4" height="6.4" fill="#4e8a78"/>
<rect x="177.91" y="431.2" width="6.4" height="6.4" fill="#4e8a78"/>
<rect x="188.82" y="432.4" width="6.4" height="6.4" fill="#4e8a78"/>
<rect x="199.74" y="434.5" width="6.4" height="6.4" fill="#4e8a78"/>
<rect x="210.66" y="437.6" width="6.4" height="6.4" fill="#4e8a78"/>
<rect x="221.57" y="440.1" width="6.4" height="6.4" fill="#4e8a78"/>
<rect x="232.49" y="443.5" width="6.4" height="6.4" fill="#4e8a78"/>
<rect x="243.4" y="446" width="6.4" height="6.4" fill="#4e8a78"/>
<rect x="254.32" y="448.6" width="6.4" height="6.4" fill="#4e8a78"/>
<rect x="265.24" y="450.9" width="6.4" height="6.4" fill="#4e8a78"/>
<rect x="276.15" y="453" width="6.4" height="6.4" fill="#4e8a78"/>
<rect x="287.07" y="453.7" width="6.4" height="6.4" fill="#4e8a78"/>
<rect x="297.98" y="454.5" width="6.4" height="6.4" fill="#4e8a78"/>
<rect x="308.9" y="454.7" width="6.4" height="6.4" fill="#4e8a78"/>
<text x="65.8" y="285.3" font-size="11.7" text-anchor="start" >Early gate</text>
<text x="4.8" y="276.2" font-size="11.5" text-anchor="start" >(d)</text>
<text x="173" y="510.2" font-size="9.8" text-anchor="middle" >Normalized time</text>
<text transform="translate(12.4,375.4) rotate(-90)" font-size="9.8" text-anchor="middle">rBF<tspan font-size="5.5" dy="2.2">i</tspan></text>
<circle cx="217.8" cy="286" r="7.6" fill="#78bca4"/>
<rect x="210.2" y="301.2" width="15.2" height="15" fill="#4e8a78"/>
<text x="234.7" y="289.8" font-size="9.8" text-anchor="start" >No pressure</text>
<text x="234.7" y="311.8" font-size="9.8" text-anchor="start" >Pressure</text>
<line x1="365.73" y1="265.7" x2="365.73" y2="485.7" stroke="rgba(30,30,30,0.16)" stroke-width="0.7" stroke-dasharray="1 1.6"/>
<line x1="379.35" y1="265.7" x2="379.35" y2="485.7" stroke="rgba(30,30,30,0.16)" stroke-width="0.7" stroke-dasharray="1 1.6"/>
<line x1="392.98" y1="265.7" x2="392.98" y2="485.7" stroke="rgba(30,30,30,0.16)" stroke-width="0.7" stroke-dasharray="1 1.6"/>
<line x1="406.6" y1="265.7" x2="406.6" y2="485.7" stroke="rgba(30,30,30,0.12)" stroke-width="0.8"/>
<line x1="420.23" y1="265.7" x2="420.23" y2="485.7" stroke="rgba(30,30,30,0.16)" stroke-width="0.7" stroke-dasharray="1 1.6"/>
<line x1="433.85" y1="265.7" x2="433.85" y2="485.7" stroke="rgba(30,30,30,0.16)" stroke-width="0.7" stroke-dasharray="1 1.6"/>
<line x1="447.48" y1="265.7" x2="447.48" y2="485.7" stroke="rgba(30,30,30,0.16)" stroke-width="0.7" stroke-dasharray="1 1.6"/>
<line x1="461.1" y1="265.7" x2="461.1" y2="485.7" stroke="rgba(30,30,30,0.12)" stroke-width="0.8"/>
<line x1="474.73" y1="265.7" x2="474.73" y2="485.7" stroke="rgba(30,30,30,0.16)" stroke-width="0.7" stroke-dasharray="1 1.6"/>
<line x1="488.35" y1="265.7" x2="488.35" y2="485.7" stroke="rgba(30,30,30,0.16)" stroke-width="0.7" stroke-dasharray="1 1.6"/>
<line x1="501.98" y1="265.7" x2="501.98" y2="485.7" stroke="rgba(30,30,30,0.16)" stroke-width="0.7" stroke-dasharray="1 1.6"/>
<line x1="515.6" y1="265.7" x2="515.6" y2="485.7" stroke="rgba(30,30,30,0.12)" stroke-width="0.8"/>
<line x1="529.23" y1="265.7" x2="529.23" y2="485.7" stroke="rgba(30,30,30,0.16)" stroke-width="0.7" stroke-dasharray="1 1.6"/>
<line x1="542.85" y1="265.7" x2="542.85" y2="485.7" stroke="rgba(30,30,30,0.16)" stroke-width="0.7" stroke-dasharray="1 1.6"/>
<line x1="556.48" y1="265.7" x2="556.48" y2="485.7" stroke="rgba(30,30,30,0.16)" stroke-width="0.7" stroke-dasharray="1 1.6"/>
<line x1="570.1" y1="265.7" x2="570.1" y2="485.7" stroke="rgba(30,30,30,0.12)" stroke-width="0.8"/>
<line x1="583.73" y1="265.7" x2="583.73" y2="485.7" stroke="rgba(30,30,30,0.16)" stroke-width="0.7" stroke-dasharray="1 1.6"/>
<line x1="597.35" y1="265.7" x2="597.35" y2="485.7" stroke="rgba(30,30,30,0.16)" stroke-width="0.7" stroke-dasharray="1 1.6"/>
<line x1="610.98" y1="265.7" x2="610.98" y2="485.7" stroke="rgba(30,30,30,0.16)" stroke-width="0.7" stroke-dasharray="1 1.6"/>
<line x1="624.6" y1="265.7" x2="624.6" y2="485.7" stroke="rgba(30,30,30,0.12)" stroke-width="0.8"/>
<line x1="351.9" y1="477.56" x2="625.9" y2="477.56" stroke="rgba(30,30,30,0.16)" stroke-width="0.7" stroke-dasharray="1 1.6"/>
<line x1="351.9" y1="469.71" x2="625.9" y2="469.71" stroke="rgba(30,30,30,0.16)" stroke-width="0.7" stroke-dasharray="1 1.6"/>
<line x1="351.9" y1="461.86" x2="625.9" y2="461.86" stroke="rgba(30,30,30,0.16)" stroke-width="0.7" stroke-dasharray="1 1.6"/>
<line x1="351.9" y1="454.02" x2="625.9" y2="454.02" stroke="rgba(30,30,30,0.12)" stroke-width="0.8"/>
<line x1="351.9" y1="446.17" x2="625.9" y2="446.17" stroke="rgba(30,30,30,0.16)" stroke-width="0.7" stroke-dasharray="1 1.6"/>
<line x1="351.9" y1="438.32" x2="625.9" y2="438.32" stroke="rgba(30,30,30,0.16)" stroke-width="0.7" stroke-dasharray="1 1.6"/>
<line x1="351.9" y1="430.48" x2="625.9" y2="430.48" stroke="rgba(30,30,30,0.16)" stroke-width="0.7" stroke-dasharray="1 1.6"/>
<line x1="351.9" y1="422.63" x2="625.9" y2="422.63" stroke="rgba(30,30,30,0.12)" stroke-width="0.8"/>
<line x1="351.9" y1="414.78" x2="625.9" y2="414.78" stroke="rgba(30,30,30,0.16)" stroke-width="0.7" stroke-dasharray="1 1.6"/>
<line x1="351.9" y1="406.94" x2="625.9" y2="406.94" stroke="rgba(30,30,30,0.16)" stroke-width="0.7" stroke-dasharray="1 1.6"/>
<line x1="351.9" y1="399.09" x2="625.9" y2="399.09" stroke="rgba(30,30,30,0.16)" stroke-width="0.7" stroke-dasharray="1 1.6"/>
<line x1="351.9" y1="391.24" x2="625.9" y2="391.24" stroke="rgba(30,30,30,0.12)" stroke-width="0.8"/>
<line x1="351.9" y1="383.4" x2="625.9" y2="383.4" stroke="rgba(30,30,30,0.16)" stroke-width="0.7" stroke-dasharray="1 1.6"/>
<line x1="351.9" y1="375.55" x2="625.9" y2="375.55" stroke="rgba(30,30,30,0.16)" stroke-width="0.7" stroke-dasharray="1 1.6"/>
<line x1="351.9" y1="367.7" x2="625.9" y2="367.7" stroke="rgba(30,30,30,0.16)" stroke-width="0.7" stroke-dasharray="1 1.6"/>
<line x1="351.9" y1="359.86" x2="625.9" y2="359.86" stroke="rgba(30,30,30,0.12)" stroke-width="0.8"/>
<line x1="351.9" y1="352.01" x2="625.9" y2="352.01" stroke="rgba(30,30,30,0.16)" stroke-width="0.7" stroke-dasharray="1 1.6"/>
<line x1="351.9" y1="344.16" x2="625.9" y2="344.16" stroke="rgba(30,30,30,0.16)" stroke-width="0.7" stroke-dasharray="1 1.6"/>
<line x1="351.9" y1="336.32" x2="625.9" y2="336.32" stroke="rgba(30,30,30,0.16)" stroke-width="0.7" stroke-dasharray="1 1.6"/>
<line x1="351.9" y1="328.47" x2="625.9" y2="328.47" stroke="rgba(30,30,30,0.12)" stroke-width="0.8"/>
<line x1="351.9" y1="320.63" x2="625.9" y2="320.63" stroke="rgba(30,30,30,0.16)" stroke-width="0.7" stroke-dasharray="1 1.6"/>
<line x1="351.9" y1="312.78" x2="625.9" y2="312.78" stroke="rgba(30,30,30,0.16)" stroke-width="0.7" stroke-dasharray="1 1.6"/>
<line x1="351.9" y1="304.93" x2="625.9" y2="304.93" stroke="rgba(30,30,30,0.16)" stroke-width="0.7" stroke-dasharray="1 1.6"/>
<line x1="351.9" y1="297.09" x2="625.9" y2="297.09" stroke="rgba(30,30,30,0.12)" stroke-width="0.8"/>
<line x1="351.9" y1="289.24" x2="625.9" y2="289.24" stroke="rgba(30,30,30,0.16)" stroke-width="0.7" stroke-dasharray="1 1.6"/>
<line x1="351.9" y1="281.39" x2="625.9" y2="281.39" stroke="rgba(30,30,30,0.16)" stroke-width="0.7" stroke-dasharray="1 1.6"/>
<line x1="351.9" y1="273.55" x2="625.9" y2="273.55" stroke="rgba(30,30,30,0.16)" stroke-width="0.7" stroke-dasharray="1 1.6"/>
<line x1="351.9" y1="265.7" x2="625.9" y2="265.7" stroke="rgba(30,30,30,0.12)" stroke-width="0.8"/>
<line x1="352.1" y1="485.7" x2="352.1" y2="481.7" stroke="#000" stroke-width="2"/>
<text x="351.3" y="497.6" font-size="8.9" text-anchor="middle" >0</text>
<line x1="406.6" y1="485.7" x2="406.6" y2="481.7" stroke="#000" stroke-width="2"/>
<text x="405.8" y="497.6" font-size="8.9" text-anchor="middle" >0.2</text>
<line x1="461.1" y1="485.7" x2="461.1" y2="481.7" stroke="#000" stroke-width="2"/>
<text x="460.3" y="497.6" font-size="8.9" text-anchor="middle" >0.4</text>
<line x1="515.6" y1="485.7" x2="515.6" y2="481.7" stroke="#000" stroke-width="2"/>
<text x="514.8" y="497.6" font-size="8.9" text-anchor="middle" >0.6</text>
<line x1="570.1" y1="485.7" x2="570.1" y2="481.7" stroke="#000" stroke-width="2"/>
<text x="569.3" y="497.6" font-size="8.9" text-anchor="middle" >0.8</text>
<line x1="624.6" y1="485.7" x2="624.6" y2="481.7" stroke="#000" stroke-width="2"/>
<text x="623.8" y="497.6" font-size="8.9" text-anchor="middle" >1</text>
<line x1="351.9" y1="485.4" x2="355.9" y2="485.4" stroke="#000" stroke-width="2"/>
<text x="346.3" y="488.8" font-size="8.9" text-anchor="end" >0.2</text>
<line x1="351.9" y1="454.02" x2="355.9" y2="454.02" stroke="#000" stroke-width="2"/>
<text x="346.3" y="457.42" font-size="8.9" text-anchor="end" >0.4</text>
<line x1="351.9" y1="422.63" x2="355.9" y2="422.63" stroke="#000" stroke-width="2"/>
<text x="346.3" y="426.03" font-size="8.9" text-anchor="end" >0.6</text>
<line x1="351.9" y1="391.24" x2="355.9" y2="391.24" stroke="#000" stroke-width="2"/>
<text x="346.3" y="394.64" font-size="8.9" text-anchor="end" >0.8</text>
<line x1="351.9" y1="359.86" x2="355.9" y2="359.86" stroke="#000" stroke-width="2"/>
<text x="346.3" y="363.26" font-size="8.9" text-anchor="end" >1</text>
<line x1="351.9" y1="328.47" x2="355.9" y2="328.47" stroke="#000" stroke-width="2"/>
<text x="346.3" y="331.87" font-size="8.9" text-anchor="end" >1.2</text>
<line x1="351.9" y1="297.09" x2="355.9" y2="297.09" stroke="#000" stroke-width="2"/>
<text x="346.3" y="300.49" font-size="8.9" text-anchor="end" >1.4</text>
<line x1="351.9" y1="265.7" x2="355.9" y2="265.7" stroke="#000" stroke-width="2"/>
<text x="346.3" y="269.1" font-size="8.9" text-anchor="end" >1.6</text>
<path d="M351.9,265.2 L351.9,485.7 L625.9,485.7" fill="none" stroke="#000" stroke-width="2.1"/>
<path d="M352.1,393.3 L363,387.2 L373.9,375.3 L384.8,356.7 L395.7,334.3 L406.6,308 L417.5,303.1 L428.4,303.3 L439.3,313 L450.2,327.4 L461.1,339.3 L472,345.9 L482.9,365.6 L493.8,377.2 L504.7,375.3 L515.6,372.8 L526.5,377 L537.4,383.6 L548.3,391.5 L559.2,398.5 L570.1,401.8 L581,403.6 L591.9,404.4 L602.8,405.6 L613.7,406.9 L624.6,400.5" fill="none" stroke="#f53a0a" stroke-width="2.2" stroke-linejoin="round"/>
<path d="M352.1,433.1 L363,430 L373.9,425.6 L384.8,415.4 L395.7,405.1 L406.6,393.3 L417.5,379.4 L428.4,368 L439.3,373.9 L450.2,382.2 L461.1,392.8 L472,398.3 L482.9,404.4 L493.8,410.3 L504.7,414.1 L515.6,418.5 L526.5,421 L537.4,424.1 L548.3,425.6 L559.2,426.2 L570.1,427.9 L581,431.3 L591.9,433.3 L602.8,435.1 L613.7,435.6 L624.6,434.6" fill="none" stroke="#c02a08" stroke-width="2.2" stroke-linejoin="round"/>
<circle cx="352.1" cy="393.3" r="3.95" fill="#f53a0a"/>
<circle cx="363" cy="387.2" r="3.95" fill="#f53a0a"/>
<circle cx="373.9" cy="375.3" r="3.95" fill="#f53a0a"/>
<circle cx="384.8" cy="356.7" r="3.95" fill="#f53a0a"/>
<circle cx="395.7" cy="334.3" r="3.95" fill="#f53a0a"/>
<circle cx="406.6" cy="308" r="3.95" fill="#f53a0a"/>
<circle cx="417.5" cy="303.1" r="3.95" fill="#f53a0a"/>
<circle cx="428.4" cy="303.3" r="3.95" fill="#f53a0a"/>
<circle cx="439.3" cy="313" r="3.95" fill="#f53a0a"/>
<circle cx="450.2" cy="327.4" r="3.95" fill="#f53a0a"/>
<circle cx="461.1" cy="339.3" r="3.95" fill="#f53a0a"/>
<circle cx="472" cy="345.9" r="3.95" fill="#f53a0a"/>
<circle cx="482.9" cy="365.6" r="3.95" fill="#f53a0a"/>
<circle cx="493.8" cy="377.2" r="3.95" fill="#f53a0a"/>
<circle cx="504.7" cy="375.3" r="3.95" fill="#f53a0a"/>
<circle cx="515.6" cy="372.8" r="3.95" fill="#f53a0a"/>
<circle cx="526.5" cy="377" r="3.95" fill="#f53a0a"/>
<circle cx="537.4" cy="383.6" r="3.95" fill="#f53a0a"/>
<circle cx="548.3" cy="391.5" r="3.95" fill="#f53a0a"/>
<circle cx="559.2" cy="398.5" r="3.95" fill="#f53a0a"/>
<circle cx="570.1" cy="401.8" r="3.95" fill="#f53a0a"/>
<circle cx="581" cy="403.6" r="3.95" fill="#f53a0a"/>
<circle cx="591.9" cy="404.4" r="3.95" fill="#f53a0a"/>
<circle cx="602.8" cy="405.6" r="3.95" fill="#f53a0a"/>
<circle cx="613.7" cy="406.9" r="3.95" fill="#f53a0a"/>
<circle cx="624.6" cy="400.5" r="3.95" fill="#f53a0a"/>
<rect x="348.9" y="429.9" width="6.4" height="6.4" fill="#c02a08"/>
<rect x="359.8" y="426.8" width="6.4" height="6.4" fill="#c02a08"/>
<rect x="370.7" y="422.4" width="6.4" height="6.4" fill="#c02a08"/>
<rect x="381.6" y="412.2" width="6.4" height="6.4" fill="#c02a08"/>
<rect x="392.5" y="401.9" width="6.4" height="6.4" fill="#c02a08"/>
<rect x="403.4" y="390.1" width="6.4" height="6.4" fill="#c02a08"/>
<rect x="414.3" y="376.2" width="6.4" height="6.4" fill="#c02a08"/>
<rect x="425.2" y="364.8" width="6.4" height="6.4" fill="#c02a08"/>
<rect x="436.1" y="370.7" width="6.4" height="6.4" fill="#c02a08"/>
<rect x="447" y="379" width="6.4" height="6.4" fill="#c02a08"/>
<rect x="457.9" y="389.6" width="6.4" height="6.4" fill="#c02a08"/>
<rect x="468.8" y="395.1" width="6.4" height="6.4" fill="#c02a08"/>
<rect x="479.7" y="401.2" width="6.4" height="6.4" fill="#c02a08"/>
<rect x="490.6" y="407.1" width="6.4" height="6.4" fill="#c02a08"/>
<rect x="501.5" y="410.9" width="6.4" height="6.4" fill="#c02a08"/>
<rect x="512.4" y="415.3" width="6.4" height="6.4" fill="#c02a08"/>
<rect x="523.3" y="417.8" width="6.4" height="6.4" fill="#c02a08"/>
<rect x="534.2" y="420.9" width="6.4" height="6.4" fill="#c02a08"/>
<rect x="545.1" y="422.4" width="6.4" height="6.4" fill="#c02a08"/>
<rect x="556" y="423" width="6.4" height="6.4" fill="#c02a08"/>
<rect x="566.9" y="424.7" width="6.4" height="6.4" fill="#c02a08"/>
<rect x="577.8" y="428.1" width="6.4" height="6.4" fill="#c02a08"/>
<rect x="588.7" y="430.1" width="6.4" height="6.4" fill="#c02a08"/>
<rect x="599.6" y="431.9" width="6.4" height="6.4" fill="#c02a08"/>
<rect x="610.5" y="432.4" width="6.4" height="6.4" fill="#c02a08"/>
<rect x="621.4" y="431.4" width="6.4" height="6.4" fill="#c02a08"/>
<text x="380.7" y="285.3" font-size="11.7" text-anchor="start" >Late gate</text>
<text x="316.4" y="276.2" font-size="11.5" text-anchor="start" >(e)</text>
<text x="485.8" y="510.2" font-size="9.8" text-anchor="middle" >Normalized time</text>
<text transform="translate(325.1,375.4) rotate(-90)" font-size="9.8" text-anchor="middle">rBF<tspan font-size="5.5" dy="2.2">i</tspan></text>
<circle cx="530.5" cy="286" r="7.6" fill="#f53a0a"/>
<rect x="522.9" y="301.2" width="15.2" height="15" fill="#c02a08"/>
<text x="547.4" y="289.8" font-size="9.8" text-anchor="start" >No pressure</text>
<text x="547.4" y="311.8" font-size="9.8" text-anchor="start" >Pressure</text>
</svg>
</body></html>
